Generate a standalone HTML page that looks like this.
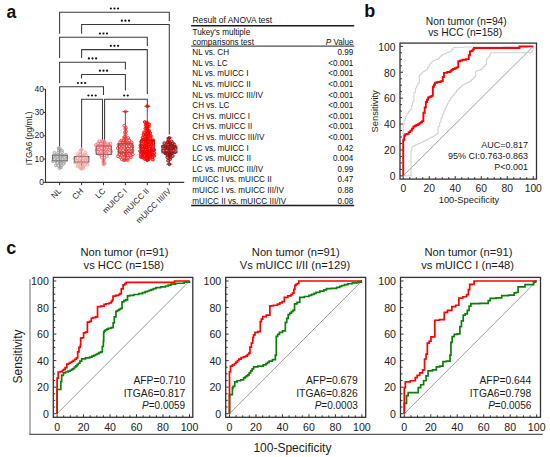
<!DOCTYPE html>
<html><head><meta charset="utf-8"><style>
html,body{margin:0;padding:0;background:#fff;}
svg{display:block;}
text{font-family:"Liberation Sans", sans-serif;}
</style></head><body>
<svg width="550" height="457" viewBox="0 0 550 457">
<rect width="550" height="457" fill="#fff"/>
<text x="6.40" y="17.60" font-size="17.5" text-anchor="start" font-weight="bold" fill="#111" >a</text>
<text x="364.20" y="17.30" font-size="18" text-anchor="start" font-weight="bold" fill="#111" >b</text>
<text x="6.30" y="254.30" font-size="18" text-anchor="start" font-weight="bold" fill="#111" >c</text>
<line x1="45.50" y1="89.00" x2="45.50" y2="182.90" stroke="#333" stroke-width="1.1"/>
<line x1="45.00" y1="182.40" x2="184.20" y2="182.40" stroke="#333" stroke-width="1.1"/>
<line x1="43.30" y1="182.40" x2="45.50" y2="182.40" stroke="#333" stroke-width="1"/>
<text x="44.00" y="185.00" font-size="8.5" text-anchor="end" font-weight="normal" fill="#222" >0</text>
<line x1="43.30" y1="159.10" x2="45.50" y2="159.10" stroke="#333" stroke-width="1"/>
<text x="44.00" y="161.70" font-size="8.5" text-anchor="end" font-weight="normal" fill="#222" >10</text>
<line x1="43.30" y1="135.80" x2="45.50" y2="135.80" stroke="#333" stroke-width="1"/>
<text x="44.00" y="138.40" font-size="8.5" text-anchor="end" font-weight="normal" fill="#222" >20</text>
<line x1="43.30" y1="112.50" x2="45.50" y2="112.50" stroke="#333" stroke-width="1"/>
<text x="44.00" y="115.10" font-size="8.5" text-anchor="end" font-weight="normal" fill="#222" >30</text>
<line x1="43.30" y1="89.20" x2="45.50" y2="89.20" stroke="#333" stroke-width="1"/>
<text x="44.00" y="91.80" font-size="8.5" text-anchor="end" font-weight="normal" fill="#222" >40</text>
<line x1="59.60" y1="182.40" x2="59.60" y2="185.20" stroke="#333" stroke-width="1"/>
<line x1="81.60" y1="182.40" x2="81.60" y2="185.20" stroke="#333" stroke-width="1"/>
<line x1="103.50" y1="182.40" x2="103.50" y2="185.20" stroke="#333" stroke-width="1"/>
<line x1="125.40" y1="182.40" x2="125.40" y2="185.20" stroke="#333" stroke-width="1"/>
<line x1="147.30" y1="182.40" x2="147.30" y2="185.20" stroke="#333" stroke-width="1"/>
<line x1="169.30" y1="182.40" x2="169.30" y2="185.20" stroke="#333" stroke-width="1"/>
<text x="0.00" y="0.00" font-size="8.1" text-anchor="middle" font-weight="normal" fill="#222" transform="translate(31.7,138.4) rotate(-90) scale(1,1.1)">ITGA6 (pg/mL)</text>
<text font-size="8.15" text-anchor="end" fill="#222" transform="translate(61.90,191.60) rotate(-45)">NL</text>
<text font-size="8.15" text-anchor="end" fill="#222" transform="translate(83.90,191.60) rotate(-45)">CH</text>
<text font-size="8.15" text-anchor="end" fill="#222" transform="translate(105.80,191.60) rotate(-45)">LC</text>
<text font-size="8.15" text-anchor="end" fill="#222" transform="translate(127.70,191.60) rotate(-45)">mUICC I</text>
<text font-size="8.15" text-anchor="end" fill="#222" transform="translate(149.60,191.60) rotate(-45)">mUICC II</text>
<text font-size="8.15" text-anchor="end" fill="#222" transform="translate(171.60,191.60) rotate(-45)">mUICC III/IV</text>
<path d="M59.60,33.70 V12.30 H169.30 V21.00" fill="none" stroke="#3a3a3a" stroke-width="1.05"/>
<circle cx="110.85" cy="8.50" r="1.1" fill="#111"/>
<circle cx="114.45" cy="8.50" r="1.1" fill="#111"/>
<circle cx="118.05" cy="8.50" r="1.1" fill="#111"/>
<path d="M81.60,33.70 V24.50 H169.30 V134.50" fill="none" stroke="#3a3a3a" stroke-width="1.05"/>
<circle cx="121.85" cy="20.70" r="1.1" fill="#111"/>
<circle cx="125.45" cy="20.70" r="1.1" fill="#111"/>
<circle cx="129.05" cy="20.70" r="1.1" fill="#111"/>
<path d="M59.60,58.00 V37.30 H147.30 V45.90" fill="none" stroke="#3a3a3a" stroke-width="1.05"/>
<circle cx="99.85" cy="33.50" r="1.1" fill="#111"/>
<circle cx="103.45" cy="33.50" r="1.1" fill="#111"/>
<circle cx="107.05" cy="33.50" r="1.1" fill="#111"/>
<path d="M81.60,58.00 V49.60 H147.30 V94.00" fill="none" stroke="#3a3a3a" stroke-width="1.05"/>
<circle cx="110.85" cy="45.80" r="1.1" fill="#111"/>
<circle cx="114.45" cy="45.80" r="1.1" fill="#111"/>
<circle cx="118.05" cy="45.80" r="1.1" fill="#111"/>
<path d="M59.60,83.00 V62.20 H125.40 V69.50" fill="none" stroke="#3a3a3a" stroke-width="1.05"/>
<circle cx="88.90" cy="58.40" r="1.1" fill="#111"/>
<circle cx="92.50" cy="58.40" r="1.1" fill="#111"/>
<circle cx="96.10" cy="58.40" r="1.1" fill="#111"/>
<path d="M81.60,78.60 V74.50 H125.40 V90.50" fill="none" stroke="#3a3a3a" stroke-width="1.05"/>
<circle cx="99.90" cy="70.70" r="1.1" fill="#111"/>
<circle cx="103.50" cy="70.70" r="1.1" fill="#111"/>
<circle cx="107.10" cy="70.70" r="1.1" fill="#111"/>
<path d="M59.60,146.50 V86.80 H103.50 V95.00" fill="none" stroke="#3a3a3a" stroke-width="1.05"/>
<circle cx="77.95" cy="83.00" r="1.1" fill="#111"/>
<circle cx="81.55" cy="83.00" r="1.1" fill="#111"/>
<circle cx="85.15" cy="83.00" r="1.1" fill="#111"/>
<path d="M81.60,147.80 V99.30 H102.50 V139.70" fill="none" stroke="#3a3a3a" stroke-width="1.05"/>
<circle cx="88.45" cy="95.50" r="1.1" fill="#111"/>
<circle cx="92.05" cy="95.50" r="1.1" fill="#111"/>
<circle cx="95.65" cy="95.50" r="1.1" fill="#111"/>
<path d="M104.60,139.70 V99.30 H147.30 V106.00" fill="none" stroke="#3a3a3a" stroke-width="1.05"/>
<circle cx="124.15" cy="95.50" r="1.1" fill="#111"/>
<circle cx="127.75" cy="95.50" r="1.1" fill="#111"/>
<line x1="59.60" y1="148.40" x2="59.60" y2="168.20" stroke="#444" stroke-width="0.9"/>
<rect x="52.40" y="155.20" width="14.80" height="5.60" fill="none" stroke="#4a4a4a" stroke-width="0.95"/>
<circle cx="58.60" cy="148.18" r="1.45" fill="#a2a2a2" fill-opacity="0.25" stroke="#a2a2a2" stroke-width="0.85"/>
<circle cx="59.05" cy="150.19" r="1.45" fill="#a2a2a2" fill-opacity="0.25" stroke="#a2a2a2" stroke-width="0.85"/>
<circle cx="61.91" cy="150.54" r="1.45" fill="#a2a2a2" fill-opacity="0.25" stroke="#a2a2a2" stroke-width="0.85"/>
<circle cx="54.43" cy="152.81" r="1.45" fill="#a2a2a2" fill-opacity="0.25" stroke="#a2a2a2" stroke-width="0.85"/>
<circle cx="58.20" cy="152.72" r="1.45" fill="#a2a2a2" fill-opacity="0.25" stroke="#a2a2a2" stroke-width="0.85"/>
<circle cx="62.05" cy="152.31" r="1.45" fill="#a2a2a2" fill-opacity="0.25" stroke="#a2a2a2" stroke-width="0.85"/>
<circle cx="54.98" cy="155.29" r="1.45" fill="#a2a2a2" fill-opacity="0.25" stroke="#a2a2a2" stroke-width="0.85"/>
<circle cx="58.07" cy="154.57" r="1.45" fill="#a2a2a2" fill-opacity="0.25" stroke="#a2a2a2" stroke-width="0.85"/>
<circle cx="62.28" cy="155.44" r="1.45" fill="#a2a2a2" fill-opacity="0.25" stroke="#a2a2a2" stroke-width="0.85"/>
<circle cx="65.72" cy="154.78" r="1.45" fill="#a2a2a2" fill-opacity="0.25" stroke="#a2a2a2" stroke-width="0.85"/>
<circle cx="54.10" cy="156.46" r="1.45" fill="#a2a2a2" fill-opacity="0.25" stroke="#a2a2a2" stroke-width="0.85"/>
<circle cx="57.55" cy="156.75" r="1.45" fill="#a2a2a2" fill-opacity="0.25" stroke="#a2a2a2" stroke-width="0.85"/>
<circle cx="60.16" cy="156.54" r="1.45" fill="#a2a2a2" fill-opacity="0.25" stroke="#a2a2a2" stroke-width="0.85"/>
<circle cx="64.00" cy="157.38" r="1.45" fill="#a2a2a2" fill-opacity="0.25" stroke="#a2a2a2" stroke-width="0.85"/>
<circle cx="54.34" cy="159.20" r="1.45" fill="#a2a2a2" fill-opacity="0.25" stroke="#a2a2a2" stroke-width="0.85"/>
<circle cx="57.76" cy="158.95" r="1.45" fill="#a2a2a2" fill-opacity="0.25" stroke="#a2a2a2" stroke-width="0.85"/>
<circle cx="60.42" cy="158.58" r="1.45" fill="#a2a2a2" fill-opacity="0.25" stroke="#a2a2a2" stroke-width="0.85"/>
<circle cx="62.52" cy="158.75" r="1.45" fill="#a2a2a2" fill-opacity="0.25" stroke="#a2a2a2" stroke-width="0.85"/>
<circle cx="66.17" cy="159.01" r="1.45" fill="#a2a2a2" fill-opacity="0.25" stroke="#a2a2a2" stroke-width="0.85"/>
<circle cx="53.09" cy="161.30" r="1.45" fill="#a2a2a2" fill-opacity="0.25" stroke="#a2a2a2" stroke-width="0.85"/>
<circle cx="56.03" cy="160.96" r="1.45" fill="#a2a2a2" fill-opacity="0.25" stroke="#a2a2a2" stroke-width="0.85"/>
<circle cx="59.26" cy="161.44" r="1.45" fill="#a2a2a2" fill-opacity="0.25" stroke="#a2a2a2" stroke-width="0.85"/>
<circle cx="61.24" cy="161.29" r="1.45" fill="#a2a2a2" fill-opacity="0.25" stroke="#a2a2a2" stroke-width="0.85"/>
<circle cx="64.39" cy="161.65" r="1.45" fill="#a2a2a2" fill-opacity="0.25" stroke="#a2a2a2" stroke-width="0.85"/>
<circle cx="57.12" cy="163.05" r="1.45" fill="#a2a2a2" fill-opacity="0.25" stroke="#a2a2a2" stroke-width="0.85"/>
<circle cx="61.02" cy="162.84" r="1.45" fill="#a2a2a2" fill-opacity="0.25" stroke="#a2a2a2" stroke-width="0.85"/>
<circle cx="63.79" cy="163.61" r="1.45" fill="#a2a2a2" fill-opacity="0.25" stroke="#a2a2a2" stroke-width="0.85"/>
<circle cx="55.86" cy="165.39" r="1.45" fill="#a2a2a2" fill-opacity="0.25" stroke="#a2a2a2" stroke-width="0.85"/>
<circle cx="58.20" cy="165.60" r="1.45" fill="#a2a2a2" fill-opacity="0.25" stroke="#a2a2a2" stroke-width="0.85"/>
<circle cx="61.72" cy="165.49" r="1.45" fill="#a2a2a2" fill-opacity="0.25" stroke="#a2a2a2" stroke-width="0.85"/>
<circle cx="60.88" cy="167.28" r="1.45" fill="#a2a2a2" fill-opacity="0.25" stroke="#a2a2a2" stroke-width="0.85"/>
<circle cx="59.60" cy="148.40" r="1.45" fill="#a2a2a2" fill-opacity="0.25" stroke="#a2a2a2" stroke-width="0.85"/>
<circle cx="59.60" cy="168.20" r="1.45" fill="#a2a2a2" fill-opacity="0.25" stroke="#a2a2a2" stroke-width="0.85"/>
<rect x="52.40" y="155.20" width="14.80" height="5.60" fill="none" stroke="#4a4a4a" stroke-width="0.8" stroke-opacity="0.4"/>
<line x1="81.60" y1="149.60" x2="81.60" y2="168.80" stroke="#444" stroke-width="0.9"/>
<rect x="74.40" y="156.60" width="14.40" height="5.40" fill="none" stroke="#4a4a4a" stroke-width="0.95"/>
<circle cx="81.12" cy="149.91" r="1.45" fill="#f5a0a0" fill-opacity="0.2" stroke="#f5a0a0" stroke-width="0.85"/>
<circle cx="80.08" cy="151.85" r="1.45" fill="#f5a0a0" fill-opacity="0.2" stroke="#f5a0a0" stroke-width="0.85"/>
<circle cx="85.20" cy="152.43" r="1.45" fill="#f5a0a0" fill-opacity="0.2" stroke="#f5a0a0" stroke-width="0.85"/>
<circle cx="77.50" cy="154.20" r="1.45" fill="#f5a0a0" fill-opacity="0.2" stroke="#f5a0a0" stroke-width="0.85"/>
<circle cx="80.23" cy="154.24" r="1.45" fill="#f5a0a0" fill-opacity="0.2" stroke="#f5a0a0" stroke-width="0.85"/>
<circle cx="84.37" cy="154.59" r="1.45" fill="#f5a0a0" fill-opacity="0.2" stroke="#f5a0a0" stroke-width="0.85"/>
<circle cx="78.53" cy="155.84" r="1.45" fill="#f5a0a0" fill-opacity="0.2" stroke="#f5a0a0" stroke-width="0.85"/>
<circle cx="80.77" cy="156.30" r="1.45" fill="#f5a0a0" fill-opacity="0.2" stroke="#f5a0a0" stroke-width="0.85"/>
<circle cx="83.11" cy="156.05" r="1.45" fill="#f5a0a0" fill-opacity="0.2" stroke="#f5a0a0" stroke-width="0.85"/>
<circle cx="86.16" cy="155.64" r="1.45" fill="#f5a0a0" fill-opacity="0.2" stroke="#f5a0a0" stroke-width="0.85"/>
<circle cx="74.54" cy="158.52" r="1.45" fill="#f5a0a0" fill-opacity="0.2" stroke="#f5a0a0" stroke-width="0.85"/>
<circle cx="77.49" cy="157.90" r="1.45" fill="#f5a0a0" fill-opacity="0.2" stroke="#f5a0a0" stroke-width="0.85"/>
<circle cx="80.70" cy="158.65" r="1.45" fill="#f5a0a0" fill-opacity="0.2" stroke="#f5a0a0" stroke-width="0.85"/>
<circle cx="83.11" cy="158.14" r="1.45" fill="#f5a0a0" fill-opacity="0.2" stroke="#f5a0a0" stroke-width="0.85"/>
<circle cx="86.61" cy="158.66" r="1.45" fill="#f5a0a0" fill-opacity="0.2" stroke="#f5a0a0" stroke-width="0.85"/>
<circle cx="77.21" cy="160.74" r="1.45" fill="#f5a0a0" fill-opacity="0.2" stroke="#f5a0a0" stroke-width="0.85"/>
<circle cx="79.25" cy="160.20" r="1.45" fill="#f5a0a0" fill-opacity="0.2" stroke="#f5a0a0" stroke-width="0.85"/>
<circle cx="82.15" cy="160.76" r="1.45" fill="#f5a0a0" fill-opacity="0.2" stroke="#f5a0a0" stroke-width="0.85"/>
<circle cx="85.78" cy="159.88" r="1.45" fill="#f5a0a0" fill-opacity="0.2" stroke="#f5a0a0" stroke-width="0.85"/>
<circle cx="87.48" cy="159.98" r="1.45" fill="#f5a0a0" fill-opacity="0.2" stroke="#f5a0a0" stroke-width="0.85"/>
<circle cx="75.00" cy="162.38" r="1.45" fill="#f5a0a0" fill-opacity="0.2" stroke="#f5a0a0" stroke-width="0.85"/>
<circle cx="78.23" cy="162.12" r="1.45" fill="#f5a0a0" fill-opacity="0.2" stroke="#f5a0a0" stroke-width="0.85"/>
<circle cx="80.16" cy="162.30" r="1.45" fill="#f5a0a0" fill-opacity="0.2" stroke="#f5a0a0" stroke-width="0.85"/>
<circle cx="83.41" cy="162.48" r="1.45" fill="#f5a0a0" fill-opacity="0.2" stroke="#f5a0a0" stroke-width="0.85"/>
<circle cx="86.96" cy="162.63" r="1.45" fill="#f5a0a0" fill-opacity="0.2" stroke="#f5a0a0" stroke-width="0.85"/>
<circle cx="77.80" cy="164.64" r="1.45" fill="#f5a0a0" fill-opacity="0.2" stroke="#f5a0a0" stroke-width="0.85"/>
<circle cx="81.07" cy="163.96" r="1.45" fill="#f5a0a0" fill-opacity="0.2" stroke="#f5a0a0" stroke-width="0.85"/>
<circle cx="84.43" cy="164.84" r="1.45" fill="#f5a0a0" fill-opacity="0.2" stroke="#f5a0a0" stroke-width="0.85"/>
<circle cx="87.45" cy="164.86" r="1.45" fill="#f5a0a0" fill-opacity="0.2" stroke="#f5a0a0" stroke-width="0.85"/>
<circle cx="77.54" cy="166.48" r="1.45" fill="#f5a0a0" fill-opacity="0.2" stroke="#f5a0a0" stroke-width="0.85"/>
<circle cx="80.29" cy="166.76" r="1.45" fill="#f5a0a0" fill-opacity="0.2" stroke="#f5a0a0" stroke-width="0.85"/>
<circle cx="83.40" cy="166.08" r="1.45" fill="#f5a0a0" fill-opacity="0.2" stroke="#f5a0a0" stroke-width="0.85"/>
<circle cx="80.65" cy="168.29" r="1.45" fill="#f5a0a0" fill-opacity="0.2" stroke="#f5a0a0" stroke-width="0.85"/>
<circle cx="83.42" cy="168.16" r="1.45" fill="#f5a0a0" fill-opacity="0.2" stroke="#f5a0a0" stroke-width="0.85"/>
<circle cx="81.60" cy="149.60" r="1.45" fill="#f5a0a0" fill-opacity="0.2" stroke="#f5a0a0" stroke-width="0.85"/>
<circle cx="81.60" cy="168.80" r="1.45" fill="#f5a0a0" fill-opacity="0.2" stroke="#f5a0a0" stroke-width="0.85"/>
<rect x="74.40" y="156.60" width="14.40" height="5.40" fill="none" stroke="#4a4a4a" stroke-width="0.8" stroke-opacity="0.4"/>
<line x1="103.50" y1="141.60" x2="103.50" y2="164.20" stroke="#444" stroke-width="0.9"/>
<rect x="96.20" y="146.00" width="15.10" height="8.30" fill="none" stroke="#4a4a4a" stroke-width="0.95"/>
<circle cx="99.35" cy="141.18" r="1.45" fill="#f27474" fill-opacity="0.2" stroke="#f27474" stroke-width="0.85"/>
<circle cx="102.19" cy="141.44" r="1.45" fill="#f27474" fill-opacity="0.2" stroke="#f27474" stroke-width="0.85"/>
<circle cx="104.79" cy="142.05" r="1.45" fill="#f27474" fill-opacity="0.2" stroke="#f27474" stroke-width="0.85"/>
<circle cx="98.21" cy="143.18" r="1.45" fill="#f27474" fill-opacity="0.2" stroke="#f27474" stroke-width="0.85"/>
<circle cx="100.80" cy="143.42" r="1.45" fill="#f27474" fill-opacity="0.2" stroke="#f27474" stroke-width="0.85"/>
<circle cx="104.06" cy="143.15" r="1.45" fill="#f27474" fill-opacity="0.2" stroke="#f27474" stroke-width="0.85"/>
<circle cx="107.84" cy="144.19" r="1.45" fill="#f27474" fill-opacity="0.2" stroke="#f27474" stroke-width="0.85"/>
<circle cx="110.40" cy="143.58" r="1.45" fill="#f27474" fill-opacity="0.2" stroke="#f27474" stroke-width="0.85"/>
<circle cx="95.97" cy="145.12" r="1.45" fill="#f27474" fill-opacity="0.2" stroke="#f27474" stroke-width="0.85"/>
<circle cx="99.43" cy="145.32" r="1.45" fill="#f27474" fill-opacity="0.2" stroke="#f27474" stroke-width="0.85"/>
<circle cx="103.21" cy="145.19" r="1.45" fill="#f27474" fill-opacity="0.2" stroke="#f27474" stroke-width="0.85"/>
<circle cx="105.18" cy="146.14" r="1.45" fill="#f27474" fill-opacity="0.2" stroke="#f27474" stroke-width="0.85"/>
<circle cx="108.99" cy="145.18" r="1.45" fill="#f27474" fill-opacity="0.2" stroke="#f27474" stroke-width="0.85"/>
<circle cx="98.11" cy="147.03" r="1.45" fill="#f27474" fill-opacity="0.2" stroke="#f27474" stroke-width="0.85"/>
<circle cx="101.19" cy="148.17" r="1.45" fill="#f27474" fill-opacity="0.2" stroke="#f27474" stroke-width="0.85"/>
<circle cx="104.76" cy="147.84" r="1.45" fill="#f27474" fill-opacity="0.2" stroke="#f27474" stroke-width="0.85"/>
<circle cx="107.02" cy="147.44" r="1.45" fill="#f27474" fill-opacity="0.2" stroke="#f27474" stroke-width="0.85"/>
<circle cx="109.98" cy="147.93" r="1.45" fill="#f27474" fill-opacity="0.2" stroke="#f27474" stroke-width="0.85"/>
<circle cx="96.60" cy="149.93" r="1.45" fill="#f27474" fill-opacity="0.2" stroke="#f27474" stroke-width="0.85"/>
<circle cx="99.41" cy="149.27" r="1.45" fill="#f27474" fill-opacity="0.2" stroke="#f27474" stroke-width="0.85"/>
<circle cx="103.19" cy="150.18" r="1.45" fill="#f27474" fill-opacity="0.2" stroke="#f27474" stroke-width="0.85"/>
<circle cx="106.34" cy="149.97" r="1.45" fill="#f27474" fill-opacity="0.2" stroke="#f27474" stroke-width="0.85"/>
<circle cx="109.40" cy="149.89" r="1.45" fill="#f27474" fill-opacity="0.2" stroke="#f27474" stroke-width="0.85"/>
<circle cx="97.67" cy="151.62" r="1.45" fill="#f27474" fill-opacity="0.2" stroke="#f27474" stroke-width="0.85"/>
<circle cx="100.95" cy="151.03" r="1.45" fill="#f27474" fill-opacity="0.2" stroke="#f27474" stroke-width="0.85"/>
<circle cx="103.59" cy="151.34" r="1.45" fill="#f27474" fill-opacity="0.2" stroke="#f27474" stroke-width="0.85"/>
<circle cx="107.01" cy="151.83" r="1.45" fill="#f27474" fill-opacity="0.2" stroke="#f27474" stroke-width="0.85"/>
<circle cx="111.09" cy="151.54" r="1.45" fill="#f27474" fill-opacity="0.2" stroke="#f27474" stroke-width="0.85"/>
<circle cx="99.56" cy="154.19" r="1.45" fill="#f27474" fill-opacity="0.2" stroke="#f27474" stroke-width="0.85"/>
<circle cx="103.39" cy="153.44" r="1.45" fill="#f27474" fill-opacity="0.2" stroke="#f27474" stroke-width="0.85"/>
<circle cx="106.16" cy="153.27" r="1.45" fill="#f27474" fill-opacity="0.2" stroke="#f27474" stroke-width="0.85"/>
<circle cx="101.43" cy="155.25" r="1.45" fill="#f27474" fill-opacity="0.2" stroke="#f27474" stroke-width="0.85"/>
<circle cx="106.82" cy="156.08" r="1.45" fill="#f27474" fill-opacity="0.2" stroke="#f27474" stroke-width="0.85"/>
<circle cx="101.73" cy="157.58" r="1.45" fill="#f27474" fill-opacity="0.2" stroke="#f27474" stroke-width="0.85"/>
<circle cx="104.46" cy="157.96" r="1.45" fill="#f27474" fill-opacity="0.2" stroke="#f27474" stroke-width="0.85"/>
<circle cx="103.67" cy="159.79" r="1.45" fill="#f27474" fill-opacity="0.2" stroke="#f27474" stroke-width="0.85"/>
<circle cx="103.32" cy="161.94" r="1.45" fill="#f27474" fill-opacity="0.2" stroke="#f27474" stroke-width="0.85"/>
<circle cx="104.60" cy="163.57" r="1.45" fill="#f27474" fill-opacity="0.2" stroke="#f27474" stroke-width="0.85"/>
<circle cx="103.50" cy="141.60" r="1.45" fill="#f27474" fill-opacity="0.2" stroke="#f27474" stroke-width="0.85"/>
<circle cx="103.50" cy="164.20" r="1.45" fill="#f27474" fill-opacity="0.2" stroke="#f27474" stroke-width="0.85"/>
<rect x="96.20" y="146.00" width="15.10" height="8.30" fill="none" stroke="#4a4a4a" stroke-width="0.8" stroke-opacity="0.4"/>
<line x1="125.40" y1="111.60" x2="125.40" y2="160.00" stroke="#444" stroke-width="0.9"/>
<line x1="122.40" y1="111.60" x2="128.40" y2="111.60" stroke="#444" stroke-width="0.9"/>
<line x1="122.40" y1="160.00" x2="128.40" y2="160.00" stroke="#444" stroke-width="0.9"/>
<rect x="118.50" y="143.90" width="14.40" height="8.90" fill="none" stroke="#4a4a4a" stroke-width="0.95"/>
<circle cx="124.20" cy="125.65" r="1.45" fill="#f03838" fill-opacity="0.15" stroke="#f03838" stroke-width="0.85"/>
<circle cx="125.92" cy="127.56" r="1.45" fill="#f03838" fill-opacity="0.15" stroke="#f03838" stroke-width="0.85"/>
<circle cx="125.31" cy="128.98" r="1.45" fill="#f03838" fill-opacity="0.15" stroke="#f03838" stroke-width="0.85"/>
<circle cx="126.01" cy="131.54" r="1.45" fill="#f03838" fill-opacity="0.15" stroke="#f03838" stroke-width="0.85"/>
<circle cx="124.96" cy="132.50" r="1.45" fill="#f03838" fill-opacity="0.15" stroke="#f03838" stroke-width="0.85"/>
<circle cx="125.63" cy="134.38" r="1.45" fill="#f03838" fill-opacity="0.15" stroke="#f03838" stroke-width="0.85"/>
<circle cx="124.22" cy="137.07" r="1.45" fill="#f03838" fill-opacity="0.15" stroke="#f03838" stroke-width="0.85"/>
<circle cx="125.15" cy="137.09" r="1.45" fill="#f03838" fill-opacity="0.15" stroke="#f03838" stroke-width="0.85"/>
<circle cx="124.33" cy="138.79" r="1.45" fill="#f03838" fill-opacity="0.15" stroke="#f03838" stroke-width="0.85"/>
<circle cx="125.94" cy="138.66" r="1.45" fill="#f03838" fill-opacity="0.15" stroke="#f03838" stroke-width="0.85"/>
<circle cx="128.13" cy="138.02" r="1.45" fill="#f03838" fill-opacity="0.15" stroke="#f03838" stroke-width="0.85"/>
<circle cx="121.25" cy="140.68" r="1.45" fill="#f03838" fill-opacity="0.15" stroke="#f03838" stroke-width="0.85"/>
<circle cx="123.33" cy="141.02" r="1.45" fill="#f03838" fill-opacity="0.15" stroke="#f03838" stroke-width="0.85"/>
<circle cx="125.91" cy="140.95" r="1.45" fill="#f03838" fill-opacity="0.15" stroke="#f03838" stroke-width="0.85"/>
<circle cx="129.16" cy="140.15" r="1.45" fill="#f03838" fill-opacity="0.15" stroke="#f03838" stroke-width="0.85"/>
<circle cx="120.12" cy="142.15" r="1.45" fill="#f03838" fill-opacity="0.15" stroke="#f03838" stroke-width="0.85"/>
<circle cx="122.94" cy="142.50" r="1.45" fill="#f03838" fill-opacity="0.15" stroke="#f03838" stroke-width="0.85"/>
<circle cx="125.81" cy="142.30" r="1.45" fill="#f03838" fill-opacity="0.15" stroke="#f03838" stroke-width="0.85"/>
<circle cx="128.48" cy="142.89" r="1.45" fill="#f03838" fill-opacity="0.15" stroke="#f03838" stroke-width="0.85"/>
<circle cx="131.63" cy="142.35" r="1.45" fill="#f03838" fill-opacity="0.15" stroke="#f03838" stroke-width="0.85"/>
<circle cx="118.57" cy="144.79" r="1.45" fill="#f03838" fill-opacity="0.15" stroke="#f03838" stroke-width="0.85"/>
<circle cx="121.44" cy="144.80" r="1.45" fill="#f03838" fill-opacity="0.15" stroke="#f03838" stroke-width="0.85"/>
<circle cx="124.65" cy="144.34" r="1.45" fill="#f03838" fill-opacity="0.15" stroke="#f03838" stroke-width="0.85"/>
<circle cx="127.78" cy="143.72" r="1.45" fill="#f03838" fill-opacity="0.15" stroke="#f03838" stroke-width="0.85"/>
<circle cx="130.77" cy="143.92" r="1.45" fill="#f03838" fill-opacity="0.15" stroke="#f03838" stroke-width="0.85"/>
<circle cx="119.26" cy="146.56" r="1.45" fill="#f03838" fill-opacity="0.15" stroke="#f03838" stroke-width="0.85"/>
<circle cx="122.59" cy="146.17" r="1.45" fill="#f03838" fill-opacity="0.15" stroke="#f03838" stroke-width="0.85"/>
<circle cx="126.47" cy="146.27" r="1.45" fill="#f03838" fill-opacity="0.15" stroke="#f03838" stroke-width="0.85"/>
<circle cx="129.01" cy="146.22" r="1.45" fill="#f03838" fill-opacity="0.15" stroke="#f03838" stroke-width="0.85"/>
<circle cx="132.43" cy="146.54" r="1.45" fill="#f03838" fill-opacity="0.15" stroke="#f03838" stroke-width="0.85"/>
<circle cx="117.90" cy="148.17" r="1.45" fill="#f03838" fill-opacity="0.15" stroke="#f03838" stroke-width="0.85"/>
<circle cx="121.20" cy="147.83" r="1.45" fill="#f03838" fill-opacity="0.15" stroke="#f03838" stroke-width="0.85"/>
<circle cx="125.03" cy="148.11" r="1.45" fill="#f03838" fill-opacity="0.15" stroke="#f03838" stroke-width="0.85"/>
<circle cx="127.84" cy="148.41" r="1.45" fill="#f03838" fill-opacity="0.15" stroke="#f03838" stroke-width="0.85"/>
<circle cx="131.43" cy="148.03" r="1.45" fill="#f03838" fill-opacity="0.15" stroke="#f03838" stroke-width="0.85"/>
<circle cx="120.11" cy="150.01" r="1.45" fill="#f03838" fill-opacity="0.15" stroke="#f03838" stroke-width="0.85"/>
<circle cx="123.07" cy="150.23" r="1.45" fill="#f03838" fill-opacity="0.15" stroke="#f03838" stroke-width="0.85"/>
<circle cx="126.08" cy="150.04" r="1.45" fill="#f03838" fill-opacity="0.15" stroke="#f03838" stroke-width="0.85"/>
<circle cx="129.22" cy="150.53" r="1.45" fill="#f03838" fill-opacity="0.15" stroke="#f03838" stroke-width="0.85"/>
<circle cx="132.63" cy="150.45" r="1.45" fill="#f03838" fill-opacity="0.15" stroke="#f03838" stroke-width="0.85"/>
<circle cx="119.07" cy="151.61" r="1.45" fill="#f03838" fill-opacity="0.15" stroke="#f03838" stroke-width="0.85"/>
<circle cx="121.63" cy="152.43" r="1.45" fill="#f03838" fill-opacity="0.15" stroke="#f03838" stroke-width="0.85"/>
<circle cx="125.13" cy="151.46" r="1.45" fill="#f03838" fill-opacity="0.15" stroke="#f03838" stroke-width="0.85"/>
<circle cx="127.22" cy="151.83" r="1.45" fill="#f03838" fill-opacity="0.15" stroke="#f03838" stroke-width="0.85"/>
<circle cx="130.25" cy="151.59" r="1.45" fill="#f03838" fill-opacity="0.15" stroke="#f03838" stroke-width="0.85"/>
<circle cx="119.35" cy="154.00" r="1.45" fill="#f03838" fill-opacity="0.15" stroke="#f03838" stroke-width="0.85"/>
<circle cx="123.45" cy="154.28" r="1.45" fill="#f03838" fill-opacity="0.15" stroke="#f03838" stroke-width="0.85"/>
<circle cx="125.67" cy="154.06" r="1.45" fill="#f03838" fill-opacity="0.15" stroke="#f03838" stroke-width="0.85"/>
<circle cx="129.47" cy="153.37" r="1.45" fill="#f03838" fill-opacity="0.15" stroke="#f03838" stroke-width="0.85"/>
<circle cx="132.89" cy="154.36" r="1.45" fill="#f03838" fill-opacity="0.15" stroke="#f03838" stroke-width="0.85"/>
<circle cx="118.06" cy="156.24" r="1.45" fill="#f03838" fill-opacity="0.15" stroke="#f03838" stroke-width="0.85"/>
<circle cx="121.41" cy="155.68" r="1.45" fill="#f03838" fill-opacity="0.15" stroke="#f03838" stroke-width="0.85"/>
<circle cx="125.34" cy="156.10" r="1.45" fill="#f03838" fill-opacity="0.15" stroke="#f03838" stroke-width="0.85"/>
<circle cx="127.28" cy="155.62" r="1.45" fill="#f03838" fill-opacity="0.15" stroke="#f03838" stroke-width="0.85"/>
<circle cx="130.87" cy="155.51" r="1.45" fill="#f03838" fill-opacity="0.15" stroke="#f03838" stroke-width="0.85"/>
<circle cx="120.32" cy="157.38" r="1.45" fill="#f03838" fill-opacity="0.15" stroke="#f03838" stroke-width="0.85"/>
<circle cx="124.66" cy="157.02" r="1.45" fill="#f03838" fill-opacity="0.15" stroke="#f03838" stroke-width="0.85"/>
<circle cx="128.03" cy="157.53" r="1.45" fill="#f03838" fill-opacity="0.15" stroke="#f03838" stroke-width="0.85"/>
<circle cx="130.88" cy="157.40" r="1.45" fill="#f03838" fill-opacity="0.15" stroke="#f03838" stroke-width="0.85"/>
<circle cx="121.96" cy="159.51" r="1.45" fill="#f03838" fill-opacity="0.15" stroke="#f03838" stroke-width="0.85"/>
<circle cx="124.04" cy="160.08" r="1.45" fill="#f03838" fill-opacity="0.15" stroke="#f03838" stroke-width="0.85"/>
<circle cx="127.92" cy="160.07" r="1.45" fill="#f03838" fill-opacity="0.15" stroke="#f03838" stroke-width="0.85"/>
<circle cx="125.40" cy="111.60" r="1.45" fill="#f03838" fill-opacity="0.15" stroke="#f03838" stroke-width="0.85"/>
<circle cx="125.40" cy="160.00" r="1.45" fill="#f03838" fill-opacity="0.15" stroke="#f03838" stroke-width="0.85"/>
<rect x="118.50" y="143.90" width="14.40" height="8.90" fill="none" stroke="#4a4a4a" stroke-width="0.8" stroke-opacity="0.4"/>
<line x1="147.30" y1="106.20" x2="147.30" y2="160.20" stroke="#444" stroke-width="0.9"/>
<line x1="144.30" y1="106.20" x2="150.30" y2="106.20" stroke="#444" stroke-width="0.9"/>
<line x1="144.30" y1="160.20" x2="150.30" y2="160.20" stroke="#444" stroke-width="0.9"/>
<rect x="140.50" y="140.10" width="14.10" height="11.20" fill="none" stroke="#4a4a4a" stroke-width="0.95"/>
<circle cx="144.80" cy="122.02" r="1.45" fill="#ff0000" fill-opacity="0.55" stroke="#ff0000" stroke-width="0.85"/>
<circle cx="147.11" cy="122.63" r="1.45" fill="#ff0000" fill-opacity="0.55" stroke="#ff0000" stroke-width="0.85"/>
<circle cx="146.47" cy="123.46" r="1.45" fill="#ff0000" fill-opacity="0.55" stroke="#ff0000" stroke-width="0.85"/>
<circle cx="149.20" cy="124.39" r="1.45" fill="#ff0000" fill-opacity="0.55" stroke="#ff0000" stroke-width="0.85"/>
<circle cx="145.68" cy="125.21" r="1.45" fill="#ff0000" fill-opacity="0.55" stroke="#ff0000" stroke-width="0.85"/>
<circle cx="147.38" cy="126.00" r="1.45" fill="#ff0000" fill-opacity="0.55" stroke="#ff0000" stroke-width="0.85"/>
<circle cx="146.77" cy="127.34" r="1.45" fill="#ff0000" fill-opacity="0.55" stroke="#ff0000" stroke-width="0.85"/>
<circle cx="148.85" cy="126.57" r="1.45" fill="#ff0000" fill-opacity="0.55" stroke="#ff0000" stroke-width="0.85"/>
<circle cx="145.37" cy="128.61" r="1.45" fill="#ff0000" fill-opacity="0.55" stroke="#ff0000" stroke-width="0.85"/>
<circle cx="147.39" cy="129.23" r="1.45" fill="#ff0000" fill-opacity="0.55" stroke="#ff0000" stroke-width="0.85"/>
<circle cx="146.59" cy="130.66" r="1.45" fill="#ff0000" fill-opacity="0.55" stroke="#ff0000" stroke-width="0.85"/>
<circle cx="149.11" cy="130.73" r="1.45" fill="#ff0000" fill-opacity="0.55" stroke="#ff0000" stroke-width="0.85"/>
<circle cx="144.06" cy="132.34" r="1.45" fill="#ff0000" fill-opacity="0.55" stroke="#ff0000" stroke-width="0.85"/>
<circle cx="148.37" cy="131.71" r="1.45" fill="#ff0000" fill-opacity="0.55" stroke="#ff0000" stroke-width="0.85"/>
<circle cx="146.00" cy="134.01" r="1.45" fill="#ff0000" fill-opacity="0.55" stroke="#ff0000" stroke-width="0.85"/>
<circle cx="147.73" cy="133.06" r="1.45" fill="#ff0000" fill-opacity="0.55" stroke="#ff0000" stroke-width="0.85"/>
<circle cx="150.21" cy="133.19" r="1.45" fill="#ff0000" fill-opacity="0.55" stroke="#ff0000" stroke-width="0.85"/>
<circle cx="143.45" cy="134.69" r="1.45" fill="#ff0000" fill-opacity="0.55" stroke="#ff0000" stroke-width="0.85"/>
<circle cx="145.92" cy="134.74" r="1.45" fill="#ff0000" fill-opacity="0.55" stroke="#ff0000" stroke-width="0.85"/>
<circle cx="148.84" cy="134.87" r="1.45" fill="#ff0000" fill-opacity="0.55" stroke="#ff0000" stroke-width="0.85"/>
<circle cx="145.35" cy="136.45" r="1.45" fill="#ff0000" fill-opacity="0.55" stroke="#ff0000" stroke-width="0.85"/>
<circle cx="148.05" cy="136.31" r="1.45" fill="#ff0000" fill-opacity="0.55" stroke="#ff0000" stroke-width="0.85"/>
<circle cx="150.90" cy="136.12" r="1.45" fill="#ff0000" fill-opacity="0.55" stroke="#ff0000" stroke-width="0.85"/>
<circle cx="142.63" cy="137.72" r="1.45" fill="#ff0000" fill-opacity="0.55" stroke="#ff0000" stroke-width="0.85"/>
<circle cx="145.69" cy="138.36" r="1.45" fill="#ff0000" fill-opacity="0.55" stroke="#ff0000" stroke-width="0.85"/>
<circle cx="147.31" cy="138.27" r="1.45" fill="#ff0000" fill-opacity="0.55" stroke="#ff0000" stroke-width="0.85"/>
<circle cx="150.73" cy="137.83" r="1.45" fill="#ff0000" fill-opacity="0.55" stroke="#ff0000" stroke-width="0.85"/>
<circle cx="142.95" cy="139.82" r="1.45" fill="#ff0000" fill-opacity="0.55" stroke="#ff0000" stroke-width="0.85"/>
<circle cx="145.27" cy="140.30" r="1.45" fill="#ff0000" fill-opacity="0.55" stroke="#ff0000" stroke-width="0.85"/>
<circle cx="147.90" cy="139.91" r="1.45" fill="#ff0000" fill-opacity="0.55" stroke="#ff0000" stroke-width="0.85"/>
<circle cx="151.09" cy="140.48" r="1.45" fill="#ff0000" fill-opacity="0.55" stroke="#ff0000" stroke-width="0.85"/>
<circle cx="153.38" cy="140.30" r="1.45" fill="#ff0000" fill-opacity="0.55" stroke="#ff0000" stroke-width="0.85"/>
<circle cx="141.12" cy="141.66" r="1.45" fill="#ff0000" fill-opacity="0.55" stroke="#ff0000" stroke-width="0.85"/>
<circle cx="143.56" cy="141.32" r="1.45" fill="#ff0000" fill-opacity="0.55" stroke="#ff0000" stroke-width="0.85"/>
<circle cx="145.93" cy="141.06" r="1.45" fill="#ff0000" fill-opacity="0.55" stroke="#ff0000" stroke-width="0.85"/>
<circle cx="148.81" cy="141.79" r="1.45" fill="#ff0000" fill-opacity="0.55" stroke="#ff0000" stroke-width="0.85"/>
<circle cx="151.93" cy="141.10" r="1.45" fill="#ff0000" fill-opacity="0.55" stroke="#ff0000" stroke-width="0.85"/>
<circle cx="141.73" cy="143.51" r="1.45" fill="#ff0000" fill-opacity="0.55" stroke="#ff0000" stroke-width="0.85"/>
<circle cx="145.70" cy="143.30" r="1.45" fill="#ff0000" fill-opacity="0.55" stroke="#ff0000" stroke-width="0.85"/>
<circle cx="147.74" cy="142.79" r="1.45" fill="#ff0000" fill-opacity="0.55" stroke="#ff0000" stroke-width="0.85"/>
<circle cx="150.63" cy="143.05" r="1.45" fill="#ff0000" fill-opacity="0.55" stroke="#ff0000" stroke-width="0.85"/>
<circle cx="153.31" cy="143.03" r="1.45" fill="#ff0000" fill-opacity="0.55" stroke="#ff0000" stroke-width="0.85"/>
<circle cx="140.45" cy="145.25" r="1.45" fill="#ff0000" fill-opacity="0.55" stroke="#ff0000" stroke-width="0.85"/>
<circle cx="144.33" cy="144.76" r="1.45" fill="#ff0000" fill-opacity="0.55" stroke="#ff0000" stroke-width="0.85"/>
<circle cx="146.19" cy="145.26" r="1.45" fill="#ff0000" fill-opacity="0.55" stroke="#ff0000" stroke-width="0.85"/>
<circle cx="149.17" cy="144.53" r="1.45" fill="#ff0000" fill-opacity="0.55" stroke="#ff0000" stroke-width="0.85"/>
<circle cx="151.62" cy="144.56" r="1.45" fill="#ff0000" fill-opacity="0.55" stroke="#ff0000" stroke-width="0.85"/>
<circle cx="142.23" cy="146.30" r="1.45" fill="#ff0000" fill-opacity="0.55" stroke="#ff0000" stroke-width="0.85"/>
<circle cx="144.74" cy="146.31" r="1.45" fill="#ff0000" fill-opacity="0.55" stroke="#ff0000" stroke-width="0.85"/>
<circle cx="147.36" cy="146.02" r="1.45" fill="#ff0000" fill-opacity="0.55" stroke="#ff0000" stroke-width="0.85"/>
<circle cx="150.37" cy="146.18" r="1.45" fill="#ff0000" fill-opacity="0.55" stroke="#ff0000" stroke-width="0.85"/>
<circle cx="153.20" cy="145.73" r="1.45" fill="#ff0000" fill-opacity="0.55" stroke="#ff0000" stroke-width="0.85"/>
<circle cx="140.47" cy="147.58" r="1.45" fill="#ff0000" fill-opacity="0.55" stroke="#ff0000" stroke-width="0.85"/>
<circle cx="143.76" cy="147.94" r="1.45" fill="#ff0000" fill-opacity="0.55" stroke="#ff0000" stroke-width="0.85"/>
<circle cx="146.90" cy="148.09" r="1.45" fill="#ff0000" fill-opacity="0.55" stroke="#ff0000" stroke-width="0.85"/>
<circle cx="149.76" cy="148.35" r="1.45" fill="#ff0000" fill-opacity="0.55" stroke="#ff0000" stroke-width="0.85"/>
<circle cx="152.21" cy="147.69" r="1.45" fill="#ff0000" fill-opacity="0.55" stroke="#ff0000" stroke-width="0.85"/>
<circle cx="142.90" cy="149.08" r="1.45" fill="#ff0000" fill-opacity="0.55" stroke="#ff0000" stroke-width="0.85"/>
<circle cx="145.45" cy="149.67" r="1.45" fill="#ff0000" fill-opacity="0.55" stroke="#ff0000" stroke-width="0.85"/>
<circle cx="147.41" cy="149.90" r="1.45" fill="#ff0000" fill-opacity="0.55" stroke="#ff0000" stroke-width="0.85"/>
<circle cx="151.51" cy="149.65" r="1.45" fill="#ff0000" fill-opacity="0.55" stroke="#ff0000" stroke-width="0.85"/>
<circle cx="154.21" cy="149.87" r="1.45" fill="#ff0000" fill-opacity="0.55" stroke="#ff0000" stroke-width="0.85"/>
<circle cx="140.19" cy="151.13" r="1.45" fill="#ff0000" fill-opacity="0.55" stroke="#ff0000" stroke-width="0.85"/>
<circle cx="143.04" cy="151.50" r="1.45" fill="#ff0000" fill-opacity="0.55" stroke="#ff0000" stroke-width="0.85"/>
<circle cx="145.81" cy="151.49" r="1.45" fill="#ff0000" fill-opacity="0.55" stroke="#ff0000" stroke-width="0.85"/>
<circle cx="147.84" cy="151.57" r="1.45" fill="#ff0000" fill-opacity="0.55" stroke="#ff0000" stroke-width="0.85"/>
<circle cx="150.32" cy="151.33" r="1.45" fill="#ff0000" fill-opacity="0.55" stroke="#ff0000" stroke-width="0.85"/>
<circle cx="152.03" cy="150.54" r="1.45" fill="#ff0000" fill-opacity="0.55" stroke="#ff0000" stroke-width="0.85"/>
<circle cx="141.66" cy="152.53" r="1.45" fill="#ff0000" fill-opacity="0.55" stroke="#ff0000" stroke-width="0.85"/>
<circle cx="143.97" cy="153.10" r="1.45" fill="#ff0000" fill-opacity="0.55" stroke="#ff0000" stroke-width="0.85"/>
<circle cx="146.96" cy="152.85" r="1.45" fill="#ff0000" fill-opacity="0.55" stroke="#ff0000" stroke-width="0.85"/>
<circle cx="149.40" cy="152.92" r="1.45" fill="#ff0000" fill-opacity="0.55" stroke="#ff0000" stroke-width="0.85"/>
<circle cx="151.56" cy="152.10" r="1.45" fill="#ff0000" fill-opacity="0.55" stroke="#ff0000" stroke-width="0.85"/>
<circle cx="154.34" cy="153.00" r="1.45" fill="#ff0000" fill-opacity="0.55" stroke="#ff0000" stroke-width="0.85"/>
<circle cx="140.66" cy="154.34" r="1.45" fill="#ff0000" fill-opacity="0.55" stroke="#ff0000" stroke-width="0.85"/>
<circle cx="143.23" cy="153.78" r="1.45" fill="#ff0000" fill-opacity="0.55" stroke="#ff0000" stroke-width="0.85"/>
<circle cx="145.70" cy="154.00" r="1.45" fill="#ff0000" fill-opacity="0.55" stroke="#ff0000" stroke-width="0.85"/>
<circle cx="147.13" cy="154.02" r="1.45" fill="#ff0000" fill-opacity="0.55" stroke="#ff0000" stroke-width="0.85"/>
<circle cx="150.41" cy="153.95" r="1.45" fill="#ff0000" fill-opacity="0.55" stroke="#ff0000" stroke-width="0.85"/>
<circle cx="152.78" cy="154.87" r="1.45" fill="#ff0000" fill-opacity="0.55" stroke="#ff0000" stroke-width="0.85"/>
<circle cx="142.12" cy="155.76" r="1.45" fill="#ff0000" fill-opacity="0.55" stroke="#ff0000" stroke-width="0.85"/>
<circle cx="144.47" cy="156.12" r="1.45" fill="#ff0000" fill-opacity="0.55" stroke="#ff0000" stroke-width="0.85"/>
<circle cx="147.24" cy="156.04" r="1.45" fill="#ff0000" fill-opacity="0.55" stroke="#ff0000" stroke-width="0.85"/>
<circle cx="149.43" cy="155.39" r="1.45" fill="#ff0000" fill-opacity="0.55" stroke="#ff0000" stroke-width="0.85"/>
<circle cx="151.11" cy="155.60" r="1.45" fill="#ff0000" fill-opacity="0.55" stroke="#ff0000" stroke-width="0.85"/>
<circle cx="154.31" cy="155.67" r="1.45" fill="#ff0000" fill-opacity="0.55" stroke="#ff0000" stroke-width="0.85"/>
<circle cx="140.70" cy="156.91" r="1.45" fill="#ff0000" fill-opacity="0.55" stroke="#ff0000" stroke-width="0.85"/>
<circle cx="142.37" cy="157.22" r="1.45" fill="#ff0000" fill-opacity="0.55" stroke="#ff0000" stroke-width="0.85"/>
<circle cx="145.60" cy="157.73" r="1.45" fill="#ff0000" fill-opacity="0.55" stroke="#ff0000" stroke-width="0.85"/>
<circle cx="147.98" cy="157.25" r="1.45" fill="#ff0000" fill-opacity="0.55" stroke="#ff0000" stroke-width="0.85"/>
<circle cx="150.14" cy="157.46" r="1.45" fill="#ff0000" fill-opacity="0.55" stroke="#ff0000" stroke-width="0.85"/>
<circle cx="152.45" cy="157.04" r="1.45" fill="#ff0000" fill-opacity="0.55" stroke="#ff0000" stroke-width="0.85"/>
<circle cx="144.28" cy="158.74" r="1.45" fill="#ff0000" fill-opacity="0.55" stroke="#ff0000" stroke-width="0.85"/>
<circle cx="147.28" cy="159.62" r="1.45" fill="#ff0000" fill-opacity="0.55" stroke="#ff0000" stroke-width="0.85"/>
<circle cx="148.82" cy="159.05" r="1.45" fill="#ff0000" fill-opacity="0.55" stroke="#ff0000" stroke-width="0.85"/>
<circle cx="152.82" cy="159.66" r="1.45" fill="#ff0000" fill-opacity="0.55" stroke="#ff0000" stroke-width="0.85"/>
<circle cx="147.30" cy="106.20" r="1.45" fill="#ff0000" fill-opacity="0.55" stroke="#ff0000" stroke-width="0.85"/>
<circle cx="147.30" cy="160.20" r="1.45" fill="#ff0000" fill-opacity="0.55" stroke="#ff0000" stroke-width="0.85"/>
<rect x="140.50" y="140.10" width="14.10" height="11.20" fill="none" stroke="#4a4a4a" stroke-width="0.8" stroke-opacity="0.4"/>
<line x1="169.30" y1="137.90" x2="169.30" y2="164.20" stroke="#444" stroke-width="0.9"/>
<line x1="166.30" y1="137.90" x2="172.30" y2="137.90" stroke="#444" stroke-width="0.9"/>
<line x1="166.30" y1="164.20" x2="172.30" y2="164.20" stroke="#444" stroke-width="0.9"/>
<rect x="162.00" y="146.00" width="14.90" height="6.80" fill="none" stroke="#4a4a4a" stroke-width="0.95"/>
<circle cx="168.48" cy="139.22" r="1.45" fill="#a00a0a" fill-opacity="0.45" stroke="#a00a0a" stroke-width="0.85"/>
<circle cx="167.64" cy="141.83" r="1.45" fill="#a00a0a" fill-opacity="0.45" stroke="#a00a0a" stroke-width="0.85"/>
<circle cx="171.64" cy="141.40" r="1.45" fill="#a00a0a" fill-opacity="0.45" stroke="#a00a0a" stroke-width="0.85"/>
<circle cx="164.31" cy="143.13" r="1.45" fill="#a00a0a" fill-opacity="0.45" stroke="#a00a0a" stroke-width="0.85"/>
<circle cx="167.94" cy="142.66" r="1.45" fill="#a00a0a" fill-opacity="0.45" stroke="#a00a0a" stroke-width="0.85"/>
<circle cx="170.24" cy="143.11" r="1.45" fill="#a00a0a" fill-opacity="0.45" stroke="#a00a0a" stroke-width="0.85"/>
<circle cx="172.83" cy="143.34" r="1.45" fill="#a00a0a" fill-opacity="0.45" stroke="#a00a0a" stroke-width="0.85"/>
<circle cx="165.21" cy="145.38" r="1.45" fill="#a00a0a" fill-opacity="0.45" stroke="#a00a0a" stroke-width="0.85"/>
<circle cx="168.54" cy="144.33" r="1.45" fill="#a00a0a" fill-opacity="0.45" stroke="#a00a0a" stroke-width="0.85"/>
<circle cx="170.84" cy="144.89" r="1.45" fill="#a00a0a" fill-opacity="0.45" stroke="#a00a0a" stroke-width="0.85"/>
<circle cx="174.44" cy="144.66" r="1.45" fill="#a00a0a" fill-opacity="0.45" stroke="#a00a0a" stroke-width="0.85"/>
<circle cx="162.87" cy="146.51" r="1.45" fill="#a00a0a" fill-opacity="0.45" stroke="#a00a0a" stroke-width="0.85"/>
<circle cx="165.70" cy="147.11" r="1.45" fill="#a00a0a" fill-opacity="0.45" stroke="#a00a0a" stroke-width="0.85"/>
<circle cx="167.85" cy="147.00" r="1.45" fill="#a00a0a" fill-opacity="0.45" stroke="#a00a0a" stroke-width="0.85"/>
<circle cx="171.61" cy="146.24" r="1.45" fill="#a00a0a" fill-opacity="0.45" stroke="#a00a0a" stroke-width="0.85"/>
<circle cx="174.33" cy="146.96" r="1.45" fill="#a00a0a" fill-opacity="0.45" stroke="#a00a0a" stroke-width="0.85"/>
<circle cx="165.08" cy="148.25" r="1.45" fill="#a00a0a" fill-opacity="0.45" stroke="#a00a0a" stroke-width="0.85"/>
<circle cx="167.10" cy="148.37" r="1.45" fill="#a00a0a" fill-opacity="0.45" stroke="#a00a0a" stroke-width="0.85"/>
<circle cx="170.75" cy="148.61" r="1.45" fill="#a00a0a" fill-opacity="0.45" stroke="#a00a0a" stroke-width="0.85"/>
<circle cx="172.62" cy="148.41" r="1.45" fill="#a00a0a" fill-opacity="0.45" stroke="#a00a0a" stroke-width="0.85"/>
<circle cx="175.27" cy="147.96" r="1.45" fill="#a00a0a" fill-opacity="0.45" stroke="#a00a0a" stroke-width="0.85"/>
<circle cx="163.06" cy="150.70" r="1.45" fill="#a00a0a" fill-opacity="0.45" stroke="#a00a0a" stroke-width="0.85"/>
<circle cx="166.61" cy="150.82" r="1.45" fill="#a00a0a" fill-opacity="0.45" stroke="#a00a0a" stroke-width="0.85"/>
<circle cx="169.84" cy="150.02" r="1.45" fill="#a00a0a" fill-opacity="0.45" stroke="#a00a0a" stroke-width="0.85"/>
<circle cx="173.50" cy="149.93" r="1.45" fill="#a00a0a" fill-opacity="0.45" stroke="#a00a0a" stroke-width="0.85"/>
<circle cx="165.57" cy="152.65" r="1.45" fill="#a00a0a" fill-opacity="0.45" stroke="#a00a0a" stroke-width="0.85"/>
<circle cx="169.15" cy="152.47" r="1.45" fill="#a00a0a" fill-opacity="0.45" stroke="#a00a0a" stroke-width="0.85"/>
<circle cx="171.67" cy="152.60" r="1.45" fill="#a00a0a" fill-opacity="0.45" stroke="#a00a0a" stroke-width="0.85"/>
<circle cx="174.97" cy="152.16" r="1.45" fill="#a00a0a" fill-opacity="0.45" stroke="#a00a0a" stroke-width="0.85"/>
<circle cx="165.21" cy="153.36" r="1.45" fill="#a00a0a" fill-opacity="0.45" stroke="#a00a0a" stroke-width="0.85"/>
<circle cx="167.66" cy="153.84" r="1.45" fill="#a00a0a" fill-opacity="0.45" stroke="#a00a0a" stroke-width="0.85"/>
<circle cx="170.12" cy="154.07" r="1.45" fill="#a00a0a" fill-opacity="0.45" stroke="#a00a0a" stroke-width="0.85"/>
<circle cx="171.90" cy="153.36" r="1.45" fill="#a00a0a" fill-opacity="0.45" stroke="#a00a0a" stroke-width="0.85"/>
<circle cx="167.66" cy="155.25" r="1.45" fill="#a00a0a" fill-opacity="0.45" stroke="#a00a0a" stroke-width="0.85"/>
<circle cx="170.01" cy="155.51" r="1.45" fill="#a00a0a" fill-opacity="0.45" stroke="#a00a0a" stroke-width="0.85"/>
<circle cx="172.76" cy="155.99" r="1.45" fill="#a00a0a" fill-opacity="0.45" stroke="#a00a0a" stroke-width="0.85"/>
<circle cx="167.32" cy="157.21" r="1.45" fill="#a00a0a" fill-opacity="0.45" stroke="#a00a0a" stroke-width="0.85"/>
<circle cx="170.67" cy="157.26" r="1.45" fill="#a00a0a" fill-opacity="0.45" stroke="#a00a0a" stroke-width="0.85"/>
<circle cx="170.13" cy="159.17" r="1.45" fill="#a00a0a" fill-opacity="0.45" stroke="#a00a0a" stroke-width="0.85"/>
<circle cx="168.08" cy="160.69" r="1.45" fill="#a00a0a" fill-opacity="0.45" stroke="#a00a0a" stroke-width="0.85"/>
<circle cx="169.30" cy="137.90" r="1.45" fill="#a00a0a" fill-opacity="0.45" stroke="#a00a0a" stroke-width="0.85"/>
<circle cx="169.30" cy="164.20" r="1.45" fill="#a00a0a" fill-opacity="0.45" stroke="#a00a0a" stroke-width="0.85"/>
<rect x="162.00" y="146.00" width="14.90" height="6.80" fill="none" stroke="#4a4a4a" stroke-width="0.8" stroke-opacity="0.4"/>
<text x="192.50" y="23.10" font-size="8.45" text-anchor="start" font-weight="normal" fill="#111" >Result of ANOVA test</text>
<line x1="191.20" y1="25.70" x2="354.20" y2="25.70" stroke="#1a1a1a" stroke-width="1.6"/>
<text x="192.50" y="35.40" font-size="8.15" text-anchor="start" font-weight="normal" fill="#111" >Tukey's multiple</text>
<text x="192.50" y="44.70" font-size="8.15" text-anchor="start" font-weight="normal" fill="#111" >comparisons test</text>
<text x="353.60" y="44.70" font-size="8.15" text-anchor="end" font-weight="normal" fill="#111" ><tspan font-style="italic">P</tspan> Value</text>
<line x1="191.20" y1="46.10" x2="354.20" y2="46.10" stroke="#222" stroke-width="1.0"/>
<text x="192.30" y="55.10" font-size="8.15" text-anchor="start" font-weight="normal" fill="#111" >NL vs. CH</text>
<text x="353.30" y="55.10" font-size="8.15" text-anchor="end" font-weight="normal" fill="#111" >0.99</text>
<text x="192.30" y="65.70" font-size="8.15" text-anchor="start" font-weight="normal" fill="#111" >NL vs. LC</text>
<text x="353.30" y="65.70" font-size="8.15" text-anchor="end" font-weight="normal" fill="#111" >&lt;0.001</text>
<text x="192.30" y="76.30" font-size="8.15" text-anchor="start" font-weight="normal" fill="#111" >NL vs. mUICC I</text>
<text x="353.30" y="76.30" font-size="8.15" text-anchor="end" font-weight="normal" fill="#111" >&lt;0.001</text>
<text x="192.30" y="86.90" font-size="8.15" text-anchor="start" font-weight="normal" fill="#111" >NL vs. mUICC II</text>
<text x="353.30" y="86.90" font-size="8.15" text-anchor="end" font-weight="normal" fill="#111" >&lt;0.001</text>
<text x="192.30" y="97.50" font-size="8.15" text-anchor="start" font-weight="normal" fill="#111" >NL vs. mUICC III/IV</text>
<text x="353.30" y="97.50" font-size="8.15" text-anchor="end" font-weight="normal" fill="#111" >&lt;0.001</text>
<text x="192.30" y="108.10" font-size="8.15" text-anchor="start" font-weight="normal" fill="#111" >CH vs. LC</text>
<text x="353.30" y="108.10" font-size="8.15" text-anchor="end" font-weight="normal" fill="#111" >&lt;0.001</text>
<text x="192.30" y="118.70" font-size="8.15" text-anchor="start" font-weight="normal" fill="#111" >CH vs. mUICC I</text>
<text x="353.30" y="118.70" font-size="8.15" text-anchor="end" font-weight="normal" fill="#111" >&lt;0.001</text>
<text x="192.30" y="129.30" font-size="8.15" text-anchor="start" font-weight="normal" fill="#111" >CH vs. mUICC II</text>
<text x="353.30" y="129.30" font-size="8.15" text-anchor="end" font-weight="normal" fill="#111" >&lt;0.001</text>
<text x="192.30" y="139.90" font-size="8.15" text-anchor="start" font-weight="normal" fill="#111" >CH vs. mUICC III/IV</text>
<text x="353.30" y="139.90" font-size="8.15" text-anchor="end" font-weight="normal" fill="#111" >&lt;0.001</text>
<text x="192.30" y="150.50" font-size="8.15" text-anchor="start" font-weight="normal" fill="#111" >LC vs. mUICC I</text>
<text x="353.30" y="150.50" font-size="8.15" text-anchor="end" font-weight="normal" fill="#111" >0.42</text>
<text x="192.30" y="161.10" font-size="8.15" text-anchor="start" font-weight="normal" fill="#111" >LC vs. mUICC II</text>
<text x="353.30" y="161.10" font-size="8.15" text-anchor="end" font-weight="normal" fill="#111" >0.004</text>
<text x="192.30" y="171.70" font-size="8.15" text-anchor="start" font-weight="normal" fill="#111" >LC vs. mUICC III/IV</text>
<text x="353.30" y="171.70" font-size="8.15" text-anchor="end" font-weight="normal" fill="#111" >0.99</text>
<text x="192.30" y="182.30" font-size="8.15" text-anchor="start" font-weight="normal" fill="#111" >mUICC I vs. mUICC II</text>
<text x="353.30" y="182.30" font-size="8.15" text-anchor="end" font-weight="normal" fill="#111" >0.47</text>
<text x="192.30" y="192.90" font-size="8.15" text-anchor="start" font-weight="normal" fill="#111" >mUICC I vs. mUICC III/IV</text>
<text x="353.30" y="192.90" font-size="8.15" text-anchor="end" font-weight="normal" fill="#111" >0.88</text>
<text x="192.30" y="203.50" font-size="8.15" text-anchor="start" font-weight="normal" fill="#111" >mUICC II vs. mUICC III/IV</text>
<text x="353.30" y="203.50" font-size="8.15" text-anchor="end" font-weight="normal" fill="#111" >0.08</text>
<line x1="191.20" y1="205.50" x2="354.20" y2="205.50" stroke="#1a1a1a" stroke-width="1.4"/>
<rect x="400.00" y="43.10" width="136.50" height="136.00" fill="none" stroke="#333" stroke-width="1.3"/>
<line x1="403.25" y1="179.10" x2="403.25" y2="176.10" stroke="#333" stroke-width="1.0"/>
<line x1="400.00" y1="175.86" x2="403.00" y2="175.86" stroke="#333" stroke-width="1.0"/>
<line x1="409.75" y1="179.10" x2="409.75" y2="177.10" stroke="#333" stroke-width="1.0"/>
<line x1="400.00" y1="169.39" x2="402.00" y2="169.39" stroke="#333" stroke-width="1.0"/>
<line x1="416.25" y1="179.10" x2="416.25" y2="177.10" stroke="#333" stroke-width="1.0"/>
<line x1="400.00" y1="162.91" x2="402.00" y2="162.91" stroke="#333" stroke-width="1.0"/>
<line x1="422.75" y1="179.10" x2="422.75" y2="177.10" stroke="#333" stroke-width="1.0"/>
<line x1="400.00" y1="156.43" x2="402.00" y2="156.43" stroke="#333" stroke-width="1.0"/>
<line x1="429.25" y1="179.10" x2="429.25" y2="176.10" stroke="#333" stroke-width="1.0"/>
<line x1="400.00" y1="149.96" x2="403.00" y2="149.96" stroke="#333" stroke-width="1.0"/>
<line x1="435.75" y1="179.10" x2="435.75" y2="177.10" stroke="#333" stroke-width="1.0"/>
<line x1="400.00" y1="143.48" x2="402.00" y2="143.48" stroke="#333" stroke-width="1.0"/>
<line x1="442.25" y1="179.10" x2="442.25" y2="177.10" stroke="#333" stroke-width="1.0"/>
<line x1="400.00" y1="137.00" x2="402.00" y2="137.00" stroke="#333" stroke-width="1.0"/>
<line x1="448.75" y1="179.10" x2="448.75" y2="177.10" stroke="#333" stroke-width="1.0"/>
<line x1="400.00" y1="130.53" x2="402.00" y2="130.53" stroke="#333" stroke-width="1.0"/>
<line x1="455.25" y1="179.10" x2="455.25" y2="176.10" stroke="#333" stroke-width="1.0"/>
<line x1="400.00" y1="124.05" x2="403.00" y2="124.05" stroke="#333" stroke-width="1.0"/>
<line x1="461.75" y1="179.10" x2="461.75" y2="177.10" stroke="#333" stroke-width="1.0"/>
<line x1="400.00" y1="117.58" x2="402.00" y2="117.58" stroke="#333" stroke-width="1.0"/>
<line x1="468.25" y1="179.10" x2="468.25" y2="177.10" stroke="#333" stroke-width="1.0"/>
<line x1="400.00" y1="111.10" x2="402.00" y2="111.10" stroke="#333" stroke-width="1.0"/>
<line x1="474.75" y1="179.10" x2="474.75" y2="177.10" stroke="#333" stroke-width="1.0"/>
<line x1="400.00" y1="104.62" x2="402.00" y2="104.62" stroke="#333" stroke-width="1.0"/>
<line x1="481.25" y1="179.10" x2="481.25" y2="176.10" stroke="#333" stroke-width="1.0"/>
<line x1="400.00" y1="98.15" x2="403.00" y2="98.15" stroke="#333" stroke-width="1.0"/>
<line x1="487.75" y1="179.10" x2="487.75" y2="177.10" stroke="#333" stroke-width="1.0"/>
<line x1="400.00" y1="91.67" x2="402.00" y2="91.67" stroke="#333" stroke-width="1.0"/>
<line x1="494.25" y1="179.10" x2="494.25" y2="177.10" stroke="#333" stroke-width="1.0"/>
<line x1="400.00" y1="85.20" x2="402.00" y2="85.20" stroke="#333" stroke-width="1.0"/>
<line x1="500.75" y1="179.10" x2="500.75" y2="177.10" stroke="#333" stroke-width="1.0"/>
<line x1="400.00" y1="78.72" x2="402.00" y2="78.72" stroke="#333" stroke-width="1.0"/>
<line x1="507.25" y1="179.10" x2="507.25" y2="176.10" stroke="#333" stroke-width="1.0"/>
<line x1="400.00" y1="72.24" x2="403.00" y2="72.24" stroke="#333" stroke-width="1.0"/>
<line x1="513.75" y1="179.10" x2="513.75" y2="177.10" stroke="#333" stroke-width="1.0"/>
<line x1="400.00" y1="65.77" x2="402.00" y2="65.77" stroke="#333" stroke-width="1.0"/>
<line x1="520.25" y1="179.10" x2="520.25" y2="177.10" stroke="#333" stroke-width="1.0"/>
<line x1="400.00" y1="59.29" x2="402.00" y2="59.29" stroke="#333" stroke-width="1.0"/>
<line x1="526.75" y1="179.10" x2="526.75" y2="177.10" stroke="#333" stroke-width="1.0"/>
<line x1="400.00" y1="52.81" x2="402.00" y2="52.81" stroke="#333" stroke-width="1.0"/>
<line x1="533.25" y1="179.10" x2="533.25" y2="176.10" stroke="#333" stroke-width="1.0"/>
<line x1="400.00" y1="46.34" x2="403.00" y2="46.34" stroke="#333" stroke-width="1.0"/>
<text x="403.25" y="192.00" font-size="10.3" text-anchor="middle" font-weight="normal" fill="#222" >0</text>
<text x="395.50" y="180.16" font-size="10.3" text-anchor="end" font-weight="normal" fill="#222" >0</text>
<text x="429.25" y="192.00" font-size="10.3" text-anchor="middle" font-weight="normal" fill="#222" >20</text>
<text x="395.50" y="154.26" font-size="10.3" text-anchor="end" font-weight="normal" fill="#222" >20</text>
<text x="455.25" y="192.00" font-size="10.3" text-anchor="middle" font-weight="normal" fill="#222" >40</text>
<text x="395.50" y="128.35" font-size="10.3" text-anchor="end" font-weight="normal" fill="#222" >40</text>
<text x="481.25" y="192.00" font-size="10.3" text-anchor="middle" font-weight="normal" fill="#222" >60</text>
<text x="395.50" y="102.45" font-size="10.3" text-anchor="end" font-weight="normal" fill="#222" >60</text>
<text x="507.25" y="192.00" font-size="10.3" text-anchor="middle" font-weight="normal" fill="#222" >80</text>
<text x="395.50" y="76.54" font-size="10.3" text-anchor="end" font-weight="normal" fill="#222" >80</text>
<text x="533.25" y="192.00" font-size="10.3" text-anchor="middle" font-weight="normal" fill="#222" >100</text>
<text x="395.50" y="50.64" font-size="10.3" text-anchor="end" font-weight="normal" fill="#222" >100</text>
<line x1="403.25" y1="175.86" x2="533.25" y2="46.34" stroke="#6a6a6a" stroke-width="0.65"/>
<text x="466.30" y="24.60" font-size="10.3" text-anchor="middle" font-weight="normal" fill="#1a1a1a" >Non tumor (n=94)</text>
<text x="465.20" y="35.70" font-size="10.3" text-anchor="middle" font-weight="normal" fill="#1a1a1a" >vs HCC (n=158)</text>
<text x="0.00" y="0.00" font-size="9.4" text-anchor="middle" font-weight="normal" fill="#1a1a1a" transform="translate(377.6,111.3) rotate(-90)">Sensitivity</text>
<text x="469.00" y="203.10" font-size="9.3" text-anchor="middle" font-weight="normal" fill="#1a1a1a" >100-Specificity</text>
<text x="528.10" y="148.10" font-size="9" text-anchor="end" font-weight="normal" fill="#1a1a1a" >AUC=0.817</text>
<text x="528.10" y="159.00" font-size="9" text-anchor="end" font-weight="normal" fill="#1a1a1a" >95% CI:0.763-0.863</text>
<text x="528.10" y="169.90" font-size="9" text-anchor="end" font-weight="normal" fill="#1a1a1a" >P&lt;0.001</text>
<path d="M403.25,175.86 L403.25,124.45 L404.17,124.45 L404.17,120.31 L404.69,120.31 L405.44,120.31 L405.44,116.81 L406.93,116.81 L406.93,113.31 L407.68,113.31 L408.46,113.31 L408.46,111.37 L410.02,111.37 L410.02,109.43 L410.80,109.43 L411.38,109.43 L411.38,105.61 L412.55,105.61 L412.55,101.79 L413.14,101.79 L413.85,101.79 L413.85,92.59 L414.57,92.59 L415.35,92.59 L415.35,88.06 L416.13,88.06 L416.71,88.06 L416.71,85.72 L417.88,85.72 L417.88,83.39 L418.47,83.39 L419.25,83.39 L419.25,75.10 L420.03,75.10 L420.78,75.10 L420.78,73.55 L422.27,73.55 L422.27,72.00 L423.02,72.00 L423.67,72.00 L423.67,71.22 L424.97,71.22 L424.97,70.44 L426.27,70.44 L426.27,69.66 L426.92,69.66 L427.67,69.66 L427.67,66.94 L429.16,66.94 L429.16,64.22 L429.91,64.22 L430.54,64.22 L430.54,62.97 L431.79,62.97 L431.79,61.72 L433.05,61.72 L433.05,60.47 L433.68,60.47 L435.50,60.47 L435.50,59.56 L437.32,59.56 L438.08,59.56 L438.08,58.23 L439.61,58.23 L439.61,56.91 L441.14,56.91 L441.14,55.58 L442.67,55.58 L442.67,54.25 L443.43,54.25 L444.39,54.25 L444.39,53.47 L446.31,53.47 L446.31,52.70 L448.22,52.70 L448.22,51.92 L450.14,51.92 L450.14,51.14 L451.10,51.14 L451.85,51.14 L451.85,49.26 L453.34,49.26 L453.34,47.39 L454.09,47.39 L463.97,47.39 L463.97,47.00 L473.85,47.00 L503.75,47.00 L503.75,46.34 L533.25,46.34" fill="none" stroke="#c8c8c8" stroke-width="0.9" stroke-linejoin="miter" stroke-miterlimit="3"/>
<path d="M403.25,175.86 L411.06,175.86 L411.06,151.13 L411.90,151.13 L411.90,146.86 L412.75,146.86 L413.33,146.86 L413.33,146.17 L414.50,146.17 L414.50,145.48 L415.67,145.48 L415.67,144.79 L416.26,144.79 L417.13,144.79 L417.13,144.01 L418.86,144.01 L418.86,143.23 L420.59,143.23 L420.59,142.46 L421.46,142.46 L422.33,142.46 L422.33,141.59 L424.06,141.59 L424.06,140.73 L425.79,140.73 L425.79,139.87 L426.66,139.87 L427.54,139.87 L427.54,138.99 L429.29,138.99 L429.29,138.12 L431.05,138.12 L431.05,137.24 L432.80,137.24 L432.80,136.37 L433.68,136.37 L434.26,136.37 L434.26,135.46 L435.44,135.46 L435.44,134.56 L436.60,134.56 L436.60,133.65 L437.19,133.65 L438.10,133.65 L438.10,126.65 L439.01,126.65 L439.66,126.65 L439.66,122.32 L440.96,122.32 L440.96,117.98 L441.61,117.98 L442.45,117.98 L442.45,114.48 L443.30,114.48 L443.95,114.48 L443.95,110.98 L445.25,110.98 L445.25,107.48 L445.90,107.48 L446.45,107.48 L446.45,105.35 L447.56,105.35 L447.56,103.21 L448.11,103.21 L448.86,103.21 L448.86,100.56 L450.35,100.56 L450.35,97.90 L451.10,97.90 L451.86,97.90 L451.86,95.99 L453.39,95.99 L453.39,94.08 L454.92,94.08 L454.92,92.17 L456.45,92.17 L456.45,90.26 L457.21,90.26 L457.97,90.26 L457.97,88.90 L459.50,88.90 L459.50,87.54 L461.03,87.54 L461.03,86.18 L462.56,86.18 L462.56,84.82 L463.32,84.82 L464.07,84.82 L464.07,84.07 L465.58,84.07 L465.58,83.32 L467.09,83.32 L467.09,82.56 L468.60,82.56 L468.60,81.81 L470.11,81.81 L470.11,81.06 L470.86,81.06 L471.55,81.06 L471.55,79.55 L472.94,79.55 L472.94,78.04 L474.33,78.04 L474.33,76.53 L475.02,76.53 L475.74,76.53 L475.74,71.09 L476.45,71.09 L477.62,71.09 L477.62,70.31 L479.96,70.31 L479.96,69.53 L481.13,69.53 L481.89,69.53 L481.89,68.02 L483.40,68.02 L483.40,66.51 L484.92,66.51 L484.92,65.00 L485.68,65.00 L486.39,65.00 L486.39,58.91 L487.11,58.91 L487.89,58.91 L487.89,56.97 L489.45,56.97 L489.45,55.03 L490.23,55.03 L490.62,55.03 L490.62,52.70 L491.01,52.70 L531.57,52.70 L532.09,52.70 L532.09,49.72 L533.13,49.72 L533.13,46.34 L533.25,46.34" fill="none" stroke="#c8c8c8" stroke-width="0.9" stroke-linejoin="miter" stroke-miterlimit="3"/>
<path d="M403.25,175.86 L403.25,139.81 L404.27,139.81 L404.27,135.66 L404.60,135.66 L405.19,135.66 L405.19,134.24 L405.77,134.24 L406.81,134.24 L406.81,133.85 L407.85,133.85 L408.69,133.85 L408.69,132.16 L409.54,132.16 L410.32,132.16 L410.32,130.61 L411.10,130.61 L411.85,130.61 L411.85,128.60 L413.34,128.60 L413.34,126.60 L414.09,126.60 L414.87,126.60 L414.87,125.82 L416.43,125.82 L416.43,125.04 L417.99,125.04 L417.99,124.26 L418.77,124.26 L419.42,124.26 L419.42,123.23 L420.72,123.23 L420.72,122.19 L422.02,122.19 L422.02,121.16 L422.67,121.16 L423.38,121.16 L423.38,112.74 L424.10,112.74 L424.69,112.74 L424.69,107.36 L425.85,107.36 L425.85,101.99 L426.44,101.99 L426.99,101.99 L426.99,99.72 L428.10,99.72 L428.10,97.45 L428.65,97.45 L429.59,97.45 L429.59,96.68 L431.48,96.68 L431.48,95.90 L432.42,95.90 L432.88,95.90 L432.88,86.70 L433.33,86.70 L433.88,86.70 L433.88,84.76 L434.99,84.76 L434.99,82.82 L435.54,82.82 L437.20,82.82 L437.20,82.04 L440.51,82.04 L440.51,81.26 L442.17,81.26 L442.75,81.26 L442.75,77.05 L443.93,77.05 L443.93,72.84 L444.51,72.84 L447.18,72.84 L447.18,72.07 L449.84,72.07 L450.43,72.07 L450.43,70.90 L451.59,70.90 L451.59,69.73 L452.18,69.73 L453.07,69.73 L453.07,68.96 L454.84,68.96 L454.84,68.18 L456.62,68.18 L456.62,67.40 L457.51,67.40 L458.29,67.40 L458.29,61.32 L459.07,61.32 L460.21,61.32 L460.21,60.54 L462.48,60.54 L462.48,59.76 L463.62,59.76 L465.89,59.76 L465.89,59.11 L468.17,59.11 L468.75,59.11 L468.75,55.23 L469.34,55.23 L469.93,55.23 L469.93,51.34 L470.51,51.34 L471.35,51.34 L471.35,50.69 L472.20,50.69 L472.79,50.69 L472.79,49.33 L473.95,49.33 L473.95,47.97 L474.54,47.97 L519.52,47.97 L519.52,46.47 L526.74,46.47 L526.74,46.34 L533.25,46.34" fill="none" stroke="#ff0000" stroke-width="1.9" stroke-linejoin="miter" stroke-miterlimit="3"/>
<line x1="30.00" y1="279.20" x2="30.00" y2="434.30" stroke="#9c9c9c" stroke-width="1.5"/>
<line x1="29.30" y1="434.30" x2="542.80" y2="434.30" stroke="#5a5a5a" stroke-width="1.2"/>
<text x="0.00" y="0.00" font-size="12" text-anchor="middle" font-weight="normal" fill="#1a1a1a" transform="translate(21.8,356.4) rotate(-90)">Sensitivity</text>
<text x="292.40" y="451.50" font-size="12" text-anchor="middle" font-weight="normal" fill="#1a1a1a" >100-Specificity</text>
<rect x="53.30" y="277.40" width="139.50" height="139.90" fill="none" stroke="#333" stroke-width="1.3"/>
<line x1="57.10" y1="417.30" x2="57.10" y2="414.30" stroke="#333" stroke-width="1.0"/>
<line x1="53.30" y1="413.70" x2="56.30" y2="413.70" stroke="#333" stroke-width="1.0"/>
<line x1="63.72" y1="417.30" x2="63.72" y2="415.30" stroke="#333" stroke-width="1.0"/>
<line x1="53.30" y1="407.06" x2="55.30" y2="407.06" stroke="#333" stroke-width="1.0"/>
<line x1="70.34" y1="417.30" x2="70.34" y2="415.30" stroke="#333" stroke-width="1.0"/>
<line x1="53.30" y1="400.43" x2="55.30" y2="400.43" stroke="#333" stroke-width="1.0"/>
<line x1="76.96" y1="417.30" x2="76.96" y2="415.30" stroke="#333" stroke-width="1.0"/>
<line x1="53.30" y1="393.79" x2="55.30" y2="393.79" stroke="#333" stroke-width="1.0"/>
<line x1="83.58" y1="417.30" x2="83.58" y2="414.30" stroke="#333" stroke-width="1.0"/>
<line x1="53.30" y1="387.16" x2="56.30" y2="387.16" stroke="#333" stroke-width="1.0"/>
<line x1="90.20" y1="417.30" x2="90.20" y2="415.30" stroke="#333" stroke-width="1.0"/>
<line x1="53.30" y1="380.52" x2="55.30" y2="380.52" stroke="#333" stroke-width="1.0"/>
<line x1="96.82" y1="417.30" x2="96.82" y2="415.30" stroke="#333" stroke-width="1.0"/>
<line x1="53.30" y1="373.89" x2="55.30" y2="373.89" stroke="#333" stroke-width="1.0"/>
<line x1="103.44" y1="417.30" x2="103.44" y2="415.30" stroke="#333" stroke-width="1.0"/>
<line x1="53.30" y1="367.25" x2="55.30" y2="367.25" stroke="#333" stroke-width="1.0"/>
<line x1="110.06" y1="417.30" x2="110.06" y2="414.30" stroke="#333" stroke-width="1.0"/>
<line x1="53.30" y1="360.62" x2="56.30" y2="360.62" stroke="#333" stroke-width="1.0"/>
<line x1="116.68" y1="417.30" x2="116.68" y2="415.30" stroke="#333" stroke-width="1.0"/>
<line x1="53.30" y1="353.98" x2="55.30" y2="353.98" stroke="#333" stroke-width="1.0"/>
<line x1="123.30" y1="417.30" x2="123.30" y2="415.30" stroke="#333" stroke-width="1.0"/>
<line x1="53.30" y1="347.35" x2="55.30" y2="347.35" stroke="#333" stroke-width="1.0"/>
<line x1="129.92" y1="417.30" x2="129.92" y2="415.30" stroke="#333" stroke-width="1.0"/>
<line x1="53.30" y1="340.71" x2="55.30" y2="340.71" stroke="#333" stroke-width="1.0"/>
<line x1="136.54" y1="417.30" x2="136.54" y2="414.30" stroke="#333" stroke-width="1.0"/>
<line x1="53.30" y1="334.08" x2="56.30" y2="334.08" stroke="#333" stroke-width="1.0"/>
<line x1="143.16" y1="417.30" x2="143.16" y2="415.30" stroke="#333" stroke-width="1.0"/>
<line x1="53.30" y1="327.44" x2="55.30" y2="327.44" stroke="#333" stroke-width="1.0"/>
<line x1="149.78" y1="417.30" x2="149.78" y2="415.30" stroke="#333" stroke-width="1.0"/>
<line x1="53.30" y1="320.81" x2="55.30" y2="320.81" stroke="#333" stroke-width="1.0"/>
<line x1="156.40" y1="417.30" x2="156.40" y2="415.30" stroke="#333" stroke-width="1.0"/>
<line x1="53.30" y1="314.17" x2="55.30" y2="314.17" stroke="#333" stroke-width="1.0"/>
<line x1="163.02" y1="417.30" x2="163.02" y2="414.30" stroke="#333" stroke-width="1.0"/>
<line x1="53.30" y1="307.54" x2="56.30" y2="307.54" stroke="#333" stroke-width="1.0"/>
<line x1="169.64" y1="417.30" x2="169.64" y2="415.30" stroke="#333" stroke-width="1.0"/>
<line x1="53.30" y1="300.90" x2="55.30" y2="300.90" stroke="#333" stroke-width="1.0"/>
<line x1="176.26" y1="417.30" x2="176.26" y2="415.30" stroke="#333" stroke-width="1.0"/>
<line x1="53.30" y1="294.27" x2="55.30" y2="294.27" stroke="#333" stroke-width="1.0"/>
<line x1="182.88" y1="417.30" x2="182.88" y2="415.30" stroke="#333" stroke-width="1.0"/>
<line x1="53.30" y1="287.63" x2="55.30" y2="287.63" stroke="#333" stroke-width="1.0"/>
<line x1="189.50" y1="417.30" x2="189.50" y2="414.30" stroke="#333" stroke-width="1.0"/>
<line x1="53.30" y1="281.00" x2="56.30" y2="281.00" stroke="#333" stroke-width="1.0"/>
<text x="57.10" y="430.50" font-size="10.6" text-anchor="middle" font-weight="normal" fill="#222" >0</text>
<text x="48.80" y="417.90" font-size="10.6" text-anchor="end" font-weight="normal" fill="#222" >0</text>
<text x="83.58" y="430.50" font-size="10.6" text-anchor="middle" font-weight="normal" fill="#222" >20</text>
<text x="48.80" y="391.36" font-size="10.6" text-anchor="end" font-weight="normal" fill="#222" >20</text>
<text x="110.06" y="430.50" font-size="10.6" text-anchor="middle" font-weight="normal" fill="#222" >40</text>
<text x="48.80" y="364.82" font-size="10.6" text-anchor="end" font-weight="normal" fill="#222" >40</text>
<text x="136.54" y="430.50" font-size="10.6" text-anchor="middle" font-weight="normal" fill="#222" >60</text>
<text x="48.80" y="338.28" font-size="10.6" text-anchor="end" font-weight="normal" fill="#222" >60</text>
<text x="163.02" y="430.50" font-size="10.6" text-anchor="middle" font-weight="normal" fill="#222" >80</text>
<text x="48.80" y="311.74" font-size="10.6" text-anchor="end" font-weight="normal" fill="#222" >80</text>
<text x="189.50" y="430.50" font-size="10.6" text-anchor="middle" font-weight="normal" fill="#222" >100</text>
<text x="48.80" y="285.20" font-size="10.6" text-anchor="end" font-weight="normal" fill="#222" >100</text>
<line x1="57.10" y1="413.70" x2="189.50" y2="281.00" stroke="#6a6a6a" stroke-width="0.65"/>
<text x="124.40" y="255.70" font-size="11.2" text-anchor="middle" font-weight="normal" fill="#1a1a1a" >Non tumor (n=91)</text>
<text x="123.80" y="269.30" font-size="11.2" text-anchor="middle" font-weight="normal" fill="#1a1a1a" >vs HCC (n=158)</text>
<text x="185.20" y="384.20" font-size="10.3" text-anchor="end" font-weight="normal" fill="#1a1a1a" >AFP=0.710</text>
<text x="185.20" y="396.60" font-size="10.3" text-anchor="end" font-weight="normal" fill="#1a1a1a" >ITGA6=0.817</text>
<text x="185.20" y="408.80" font-size="10" text-anchor="end" font-weight="normal" fill="#1a1a1a" ><tspan font-style="italic">P</tspan>=0.0059</text>
<path d="M57.10,413.70 L57.10,389.52 L60.79,389.52 L60.79,381.69 L61.65,381.69 L61.65,375.45 L62.51,375.45 L63.37,375.45 L63.37,372.93 L64.23,372.93 L65.56,372.93 L65.56,372.00 L68.21,372.00 L68.21,371.07 L69.53,371.07 L70.24,371.07 L70.24,370.23 L71.65,370.23 L71.65,369.39 L73.06,369.39 L73.06,368.55 L73.77,368.55 L74.43,368.55 L74.43,367.22 L75.75,367.22 L75.75,365.90 L77.08,365.90 L77.08,364.57 L78.40,364.57 L78.40,363.24 L79.06,363.24 L79.92,363.24 L79.92,361.05 L81.65,361.05 L81.65,358.86 L82.51,358.86 L85.55,358.86 L85.55,357.94 L88.60,357.94 L89.69,357.94 L89.69,357.07 L91.87,357.07 L91.87,356.21 L92.97,356.21 L93.83,356.21 L93.83,355.35 L95.55,355.35 L95.55,354.48 L96.41,354.48 L97.27,354.48 L97.27,353.60 L98.99,353.60 L98.99,352.72 L100.71,352.72 L100.71,351.83 L101.57,351.83 L102.30,351.83 L102.30,346.52 L103.03,346.52 L103.36,346.52 L103.36,341.21 L103.69,341.21 L103.69,332.06 L104.29,332.06 L104.29,330.93 L105.48,330.93 L105.48,329.80 L106.07,329.80 L106.80,329.80 L106.80,329.07 L108.26,329.07 L108.26,328.34 L108.99,328.34 L110.97,328.34 L110.97,327.55 L112.96,327.55 L113.16,327.55 L113.16,322.90 L113.36,322.90 L114.28,322.90 L114.28,316.80 L115.21,316.80 L115.94,316.80 L115.94,311.36 L116.67,311.36 L117.44,311.36 L117.44,310.34 L118.98,310.34 L118.98,309.32 L120.53,309.32 L120.53,308.31 L121.30,308.31 L122.03,308.31 L122.03,301.94 L122.76,301.94 L123.81,301.94 L123.81,300.61 L124.87,300.61 L125.87,300.61 L125.87,299.81 L126.86,299.81 L127.52,299.81 L127.52,295.83 L128.18,295.83 L129.91,295.83 L129.91,295.30 L131.63,295.30 L134.01,295.30 L134.01,294.50 L138.78,294.50 L138.78,293.71 L141.16,293.71 L142.48,293.71 L142.48,292.71 L145.13,292.71 L145.13,291.72 L146.46,291.72 L147.38,291.72 L147.38,291.01 L149.24,291.01 L149.24,290.30 L151.09,290.30 L151.09,289.59 L152.02,289.59 L153.34,289.59 L153.34,288.60 L155.99,288.60 L155.99,287.60 L157.31,287.60 L160.69,287.60 L160.69,286.94 L164.06,286.94 L165.43,286.94 L165.43,286.01 L168.17,286.01 L168.17,285.08 L170.91,285.08 L170.91,284.15 L172.27,284.15 L175.65,284.15 L175.65,283.23 L179.03,283.23 L184.12,283.23 L184.12,282.16 L189.22,282.16 L189.49,282.16 L189.49,281.00 L189.50,281.00" fill="none" stroke="#0a800a" stroke-width="1.7" stroke-linejoin="miter" stroke-miterlimit="3"/>
<path d="M57.10,413.70 L57.10,378.11 L58.21,378.11 L58.21,372.00 L59.07,372.00 L60.33,372.00 L60.33,371.60 L61.59,371.60 L62.25,371.60 L62.25,370.48 L63.57,370.48 L63.57,369.35 L64.23,369.35 L65.10,369.35 L65.10,367.62 L65.96,367.62 L66.82,367.62 L66.82,364.04 L67.68,364.04 L68.54,364.04 L68.54,363.24 L70.26,363.24 L70.26,362.45 L71.12,362.45 L71.78,362.45 L71.78,361.52 L73.11,361.52 L73.11,360.59 L73.77,360.59 L74.63,360.59 L74.63,359.26 L76.35,359.26 L76.35,357.94 L77.21,357.94 L77.67,357.94 L77.67,351.83 L78.14,351.83 L79.00,351.83 L79.00,347.45 L79.86,347.45 L80.26,347.45 L80.26,345.46 L80.65,345.46 L80.65,338.16 L81.91,338.16 L81.91,337.76 L83.17,337.76 L83.57,337.76 L83.57,332.85 L83.96,332.85 L85.48,332.85 L85.48,332.06 L87.01,332.06 L87.40,332.06 L87.40,322.11 L87.80,322.11 L89.46,322.11 L89.46,321.31 L91.11,321.31 L91.31,321.31 L91.31,318.26 L91.51,318.26 L92.87,318.26 L92.87,317.53 L95.58,317.53 L95.58,316.80 L96.94,316.80 L97.53,316.80 L97.53,306.71 L98.13,306.71 L100.91,306.71 L100.91,306.05 L103.69,306.05 L104.09,306.05 L104.09,304.46 L104.48,304.46 L106.01,304.46 L106.01,303.73 L109.05,303.73 L109.05,303.00 L110.57,303.00 L111.17,303.00 L111.17,301.40 L112.36,301.40 L112.36,299.81 L112.96,299.81 L112.96,296.10 L115.61,296.10 L115.61,295.30 L118.25,295.30 L118.82,295.30 L118.82,294.50 L119.94,294.50 L119.94,293.71 L120.50,293.71 L121.30,293.71 L121.30,288.93 L122.09,288.93 L123.09,288.93 L123.09,284.82 L124.08,284.82 L124.77,284.82 L124.77,283.56 L126.16,283.56 L126.16,282.30 L126.86,282.30 L174.52,282.30 L174.52,281.00 L189.50,281.00" fill="none" stroke="#ff0000" stroke-width="1.7" stroke-linejoin="miter" stroke-miterlimit="3"/>
<rect x="225.70" y="277.40" width="140.00" height="139.90" fill="none" stroke="#333" stroke-width="1.3"/>
<line x1="229.50" y1="417.30" x2="229.50" y2="414.30" stroke="#333" stroke-width="1.0"/>
<line x1="225.70" y1="413.70" x2="228.70" y2="413.70" stroke="#333" stroke-width="1.0"/>
<line x1="236.12" y1="417.30" x2="236.12" y2="415.30" stroke="#333" stroke-width="1.0"/>
<line x1="225.70" y1="407.06" x2="227.70" y2="407.06" stroke="#333" stroke-width="1.0"/>
<line x1="242.74" y1="417.30" x2="242.74" y2="415.30" stroke="#333" stroke-width="1.0"/>
<line x1="225.70" y1="400.43" x2="227.70" y2="400.43" stroke="#333" stroke-width="1.0"/>
<line x1="249.36" y1="417.30" x2="249.36" y2="415.30" stroke="#333" stroke-width="1.0"/>
<line x1="225.70" y1="393.79" x2="227.70" y2="393.79" stroke="#333" stroke-width="1.0"/>
<line x1="255.98" y1="417.30" x2="255.98" y2="414.30" stroke="#333" stroke-width="1.0"/>
<line x1="225.70" y1="387.16" x2="228.70" y2="387.16" stroke="#333" stroke-width="1.0"/>
<line x1="262.60" y1="417.30" x2="262.60" y2="415.30" stroke="#333" stroke-width="1.0"/>
<line x1="225.70" y1="380.52" x2="227.70" y2="380.52" stroke="#333" stroke-width="1.0"/>
<line x1="269.22" y1="417.30" x2="269.22" y2="415.30" stroke="#333" stroke-width="1.0"/>
<line x1="225.70" y1="373.89" x2="227.70" y2="373.89" stroke="#333" stroke-width="1.0"/>
<line x1="275.84" y1="417.30" x2="275.84" y2="415.30" stroke="#333" stroke-width="1.0"/>
<line x1="225.70" y1="367.25" x2="227.70" y2="367.25" stroke="#333" stroke-width="1.0"/>
<line x1="282.46" y1="417.30" x2="282.46" y2="414.30" stroke="#333" stroke-width="1.0"/>
<line x1="225.70" y1="360.62" x2="228.70" y2="360.62" stroke="#333" stroke-width="1.0"/>
<line x1="289.08" y1="417.30" x2="289.08" y2="415.30" stroke="#333" stroke-width="1.0"/>
<line x1="225.70" y1="353.98" x2="227.70" y2="353.98" stroke="#333" stroke-width="1.0"/>
<line x1="295.70" y1="417.30" x2="295.70" y2="415.30" stroke="#333" stroke-width="1.0"/>
<line x1="225.70" y1="347.35" x2="227.70" y2="347.35" stroke="#333" stroke-width="1.0"/>
<line x1="302.32" y1="417.30" x2="302.32" y2="415.30" stroke="#333" stroke-width="1.0"/>
<line x1="225.70" y1="340.71" x2="227.70" y2="340.71" stroke="#333" stroke-width="1.0"/>
<line x1="308.94" y1="417.30" x2="308.94" y2="414.30" stroke="#333" stroke-width="1.0"/>
<line x1="225.70" y1="334.08" x2="228.70" y2="334.08" stroke="#333" stroke-width="1.0"/>
<line x1="315.56" y1="417.30" x2="315.56" y2="415.30" stroke="#333" stroke-width="1.0"/>
<line x1="225.70" y1="327.44" x2="227.70" y2="327.44" stroke="#333" stroke-width="1.0"/>
<line x1="322.18" y1="417.30" x2="322.18" y2="415.30" stroke="#333" stroke-width="1.0"/>
<line x1="225.70" y1="320.81" x2="227.70" y2="320.81" stroke="#333" stroke-width="1.0"/>
<line x1="328.80" y1="417.30" x2="328.80" y2="415.30" stroke="#333" stroke-width="1.0"/>
<line x1="225.70" y1="314.17" x2="227.70" y2="314.17" stroke="#333" stroke-width="1.0"/>
<line x1="335.42" y1="417.30" x2="335.42" y2="414.30" stroke="#333" stroke-width="1.0"/>
<line x1="225.70" y1="307.54" x2="228.70" y2="307.54" stroke="#333" stroke-width="1.0"/>
<line x1="342.04" y1="417.30" x2="342.04" y2="415.30" stroke="#333" stroke-width="1.0"/>
<line x1="225.70" y1="300.90" x2="227.70" y2="300.90" stroke="#333" stroke-width="1.0"/>
<line x1="348.66" y1="417.30" x2="348.66" y2="415.30" stroke="#333" stroke-width="1.0"/>
<line x1="225.70" y1="294.27" x2="227.70" y2="294.27" stroke="#333" stroke-width="1.0"/>
<line x1="355.28" y1="417.30" x2="355.28" y2="415.30" stroke="#333" stroke-width="1.0"/>
<line x1="225.70" y1="287.63" x2="227.70" y2="287.63" stroke="#333" stroke-width="1.0"/>
<line x1="361.90" y1="417.30" x2="361.90" y2="414.30" stroke="#333" stroke-width="1.0"/>
<line x1="225.70" y1="281.00" x2="228.70" y2="281.00" stroke="#333" stroke-width="1.0"/>
<text x="229.50" y="430.50" font-size="10.6" text-anchor="middle" font-weight="normal" fill="#222" >0</text>
<text x="221.20" y="417.90" font-size="10.6" text-anchor="end" font-weight="normal" fill="#222" >0</text>
<text x="255.98" y="430.50" font-size="10.6" text-anchor="middle" font-weight="normal" fill="#222" >20</text>
<text x="221.20" y="391.36" font-size="10.6" text-anchor="end" font-weight="normal" fill="#222" >20</text>
<text x="282.46" y="430.50" font-size="10.6" text-anchor="middle" font-weight="normal" fill="#222" >40</text>
<text x="221.20" y="364.82" font-size="10.6" text-anchor="end" font-weight="normal" fill="#222" >40</text>
<text x="308.94" y="430.50" font-size="10.6" text-anchor="middle" font-weight="normal" fill="#222" >60</text>
<text x="221.20" y="338.28" font-size="10.6" text-anchor="end" font-weight="normal" fill="#222" >60</text>
<text x="335.42" y="430.50" font-size="10.6" text-anchor="middle" font-weight="normal" fill="#222" >80</text>
<text x="221.20" y="311.74" font-size="10.6" text-anchor="end" font-weight="normal" fill="#222" >80</text>
<text x="361.90" y="430.50" font-size="10.6" text-anchor="middle" font-weight="normal" fill="#222" >100</text>
<text x="221.20" y="285.20" font-size="10.6" text-anchor="end" font-weight="normal" fill="#222" >100</text>
<line x1="229.50" y1="413.70" x2="361.90" y2="281.00" stroke="#6a6a6a" stroke-width="0.65"/>
<text x="295.80" y="255.70" font-size="11.2" text-anchor="middle" font-weight="normal" fill="#1a1a1a" >Non tumor (n=91)</text>
<text x="295.00" y="269.30" font-size="11.2" text-anchor="middle" font-weight="normal" fill="#1a1a1a" >Vs mUICC I/II (n=129)</text>
<text x="357.80" y="384.20" font-size="10.3" text-anchor="end" font-weight="normal" fill="#1a1a1a" >AFP=0.679</text>
<text x="357.80" y="396.60" font-size="10.3" text-anchor="end" font-weight="normal" fill="#1a1a1a" >ITGA6=0.826</text>
<text x="357.80" y="408.80" font-size="10" text-anchor="end" font-weight="normal" fill="#1a1a1a" ><tspan font-style="italic">P</tspan>=0.0003</text>
<path d="M229.50,413.70 L229.50,394.69 L232.40,394.69 L232.40,387.79 L233.06,387.79 L233.06,386.33 L233.72,386.33 L234.72,386.33 L234.72,381.82 L235.71,381.82 L237.16,381.82 L237.16,380.76 L238.62,380.76 L240.61,380.76 L240.61,379.83 L242.59,379.83 L243.59,379.83 L243.59,377.84 L244.58,377.84 L245.22,377.84 L245.22,376.87 L246.50,376.87 L246.50,375.89 L247.78,375.89 L247.78,374.92 L248.42,374.92 L249.15,374.92 L249.15,372.93 L250.60,372.93 L250.60,370.94 L251.33,370.94 L252.09,370.94 L252.09,368.95 L253.62,368.95 L253.62,366.96 L254.38,366.96 L257.82,366.96 L257.82,366.03 L261.26,366.03 L263.18,366.03 L263.18,364.97 L265.10,364.97 L265.92,364.97 L265.92,363.69 L267.55,363.69 L267.55,362.40 L269.18,362.40 L269.18,361.12 L270.00,361.12 L272.45,361.12 L272.45,359.66 L274.90,359.66 L275.36,359.66 L275.36,355.15 L275.83,355.15 L276.29,355.15 L276.29,336.31 L276.75,336.31 L277.65,336.31 L277.65,334.31 L279.43,334.31 L279.43,332.32 L280.33,332.32 L282.51,332.32 L282.51,330.86 L284.70,330.86 L285.36,330.86 L285.36,322.37 L286.02,322.37 L286.75,322.37 L286.75,318.46 L288.20,318.46 L288.20,314.54 L288.93,314.54 L289.75,314.54 L289.75,313.13 L291.38,313.13 L291.38,311.71 L293.02,311.71 L293.02,310.30 L293.83,310.30 L294.56,310.30 L294.56,303.79 L295.29,303.79 L297.01,303.79 L297.01,302.33 L298.73,302.33 L299.79,302.33 L299.79,297.29 L300.85,297.29 L304.23,297.29 L304.23,296.50 L307.60,296.50 L308.96,296.50 L308.96,295.43 L311.67,295.43 L311.67,294.37 L313.03,294.37 L314.06,294.37 L314.06,293.38 L316.11,293.38 L316.11,292.38 L317.13,292.38 L319.85,292.38 L319.85,291.05 L322.56,291.05 L323.89,291.05 L323.89,289.86 L326.53,289.86 L326.53,288.67 L327.86,288.67 L331.23,288.67 L331.23,288.40 L334.61,288.40 L336.66,288.40 L336.66,287.34 L338.72,287.34 L339.74,287.34 L339.74,286.41 L341.79,286.41 L341.79,285.48 L342.82,285.48 L344.51,285.48 L344.51,284.62 L347.88,284.62 L347.88,283.76 L349.57,283.76 L352.29,283.76 L352.29,282.96 L357.71,282.96 L357.71,282.16 L360.43,282.16 L361.29,282.16 L361.29,281.00 L361.90,281.00" fill="none" stroke="#0a800a" stroke-width="1.7" stroke-linejoin="miter" stroke-miterlimit="3"/>
<path d="M229.50,413.70 L229.50,371.87 L230.48,371.87 L230.48,366.03 L231.21,366.03 L232.46,366.03 L232.46,364.97 L233.72,364.97 L234.45,364.97 L234.45,363.51 L235.91,363.51 L235.91,362.05 L236.63,362.05 L237.40,362.05 L237.40,360.59 L238.92,360.59 L238.92,359.13 L239.68,359.13 L241.14,359.13 L241.14,357.67 L242.59,357.67 L243.59,357.67 L243.59,356.87 L245.57,356.87 L245.57,356.08 L246.56,356.08 L247.29,356.08 L247.29,354.62 L248.75,354.62 L248.75,353.16 L249.48,353.16 L249.94,353.16 L249.94,347.19 L250.40,347.19 L251.40,347.19 L251.40,343.21 L252.39,343.21 L252.66,343.21 L252.66,340.42 L252.92,340.42 L252.92,337.37 L253.62,337.37 L253.62,334.85 L255.01,334.85 L255.01,332.32 L255.70,332.32 L257.82,332.32 L257.82,331.66 L259.94,331.66 L260.27,331.66 L260.27,321.58 L260.60,321.58 L261.33,321.58 L261.33,319.12 L262.78,319.12 L262.78,316.67 L263.51,316.67 L266.36,316.67 L266.36,315.21 L269.21,315.21 L269.87,315.21 L269.87,305.92 L270.53,305.92 L273.38,305.92 L273.38,305.25 L276.22,305.25 L277.39,305.25 L277.39,304.06 L279.73,304.06 L279.73,302.86 L282.07,302.86 L282.07,301.67 L283.24,301.67 L284.30,301.67 L284.30,297.29 L285.36,297.29 L287.81,297.29 L287.81,295.96 L290.26,295.96 L291.02,295.96 L291.02,294.57 L292.54,294.57 L292.54,293.18 L293.30,293.18 L293.90,293.18 L293.90,289.46 L294.49,289.46 L294.89,289.46 L294.89,285.35 L295.29,285.35 L295.98,285.35 L295.98,284.42 L297.37,284.42 L297.37,283.49 L298.07,283.49 L298.80,283.49 L298.80,281.00 L299.52,281.00 L361.90,281.00" fill="none" stroke="#ff0000" stroke-width="1.7" stroke-linejoin="miter" stroke-miterlimit="3"/>
<rect x="400.50" y="277.40" width="140.00" height="139.90" fill="none" stroke="#333" stroke-width="1.3"/>
<line x1="404.30" y1="417.30" x2="404.30" y2="414.30" stroke="#333" stroke-width="1.0"/>
<line x1="400.50" y1="413.70" x2="403.50" y2="413.70" stroke="#333" stroke-width="1.0"/>
<line x1="410.92" y1="417.30" x2="410.92" y2="415.30" stroke="#333" stroke-width="1.0"/>
<line x1="400.50" y1="407.06" x2="402.50" y2="407.06" stroke="#333" stroke-width="1.0"/>
<line x1="417.54" y1="417.30" x2="417.54" y2="415.30" stroke="#333" stroke-width="1.0"/>
<line x1="400.50" y1="400.43" x2="402.50" y2="400.43" stroke="#333" stroke-width="1.0"/>
<line x1="424.16" y1="417.30" x2="424.16" y2="415.30" stroke="#333" stroke-width="1.0"/>
<line x1="400.50" y1="393.79" x2="402.50" y2="393.79" stroke="#333" stroke-width="1.0"/>
<line x1="430.78" y1="417.30" x2="430.78" y2="414.30" stroke="#333" stroke-width="1.0"/>
<line x1="400.50" y1="387.16" x2="403.50" y2="387.16" stroke="#333" stroke-width="1.0"/>
<line x1="437.40" y1="417.30" x2="437.40" y2="415.30" stroke="#333" stroke-width="1.0"/>
<line x1="400.50" y1="380.52" x2="402.50" y2="380.52" stroke="#333" stroke-width="1.0"/>
<line x1="444.02" y1="417.30" x2="444.02" y2="415.30" stroke="#333" stroke-width="1.0"/>
<line x1="400.50" y1="373.89" x2="402.50" y2="373.89" stroke="#333" stroke-width="1.0"/>
<line x1="450.64" y1="417.30" x2="450.64" y2="415.30" stroke="#333" stroke-width="1.0"/>
<line x1="400.50" y1="367.25" x2="402.50" y2="367.25" stroke="#333" stroke-width="1.0"/>
<line x1="457.26" y1="417.30" x2="457.26" y2="414.30" stroke="#333" stroke-width="1.0"/>
<line x1="400.50" y1="360.62" x2="403.50" y2="360.62" stroke="#333" stroke-width="1.0"/>
<line x1="463.88" y1="417.30" x2="463.88" y2="415.30" stroke="#333" stroke-width="1.0"/>
<line x1="400.50" y1="353.98" x2="402.50" y2="353.98" stroke="#333" stroke-width="1.0"/>
<line x1="470.50" y1="417.30" x2="470.50" y2="415.30" stroke="#333" stroke-width="1.0"/>
<line x1="400.50" y1="347.35" x2="402.50" y2="347.35" stroke="#333" stroke-width="1.0"/>
<line x1="477.12" y1="417.30" x2="477.12" y2="415.30" stroke="#333" stroke-width="1.0"/>
<line x1="400.50" y1="340.71" x2="402.50" y2="340.71" stroke="#333" stroke-width="1.0"/>
<line x1="483.74" y1="417.30" x2="483.74" y2="414.30" stroke="#333" stroke-width="1.0"/>
<line x1="400.50" y1="334.08" x2="403.50" y2="334.08" stroke="#333" stroke-width="1.0"/>
<line x1="490.36" y1="417.30" x2="490.36" y2="415.30" stroke="#333" stroke-width="1.0"/>
<line x1="400.50" y1="327.44" x2="402.50" y2="327.44" stroke="#333" stroke-width="1.0"/>
<line x1="496.98" y1="417.30" x2="496.98" y2="415.30" stroke="#333" stroke-width="1.0"/>
<line x1="400.50" y1="320.81" x2="402.50" y2="320.81" stroke="#333" stroke-width="1.0"/>
<line x1="503.60" y1="417.30" x2="503.60" y2="415.30" stroke="#333" stroke-width="1.0"/>
<line x1="400.50" y1="314.17" x2="402.50" y2="314.17" stroke="#333" stroke-width="1.0"/>
<line x1="510.22" y1="417.30" x2="510.22" y2="414.30" stroke="#333" stroke-width="1.0"/>
<line x1="400.50" y1="307.54" x2="403.50" y2="307.54" stroke="#333" stroke-width="1.0"/>
<line x1="516.84" y1="417.30" x2="516.84" y2="415.30" stroke="#333" stroke-width="1.0"/>
<line x1="400.50" y1="300.90" x2="402.50" y2="300.90" stroke="#333" stroke-width="1.0"/>
<line x1="523.46" y1="417.30" x2="523.46" y2="415.30" stroke="#333" stroke-width="1.0"/>
<line x1="400.50" y1="294.27" x2="402.50" y2="294.27" stroke="#333" stroke-width="1.0"/>
<line x1="530.08" y1="417.30" x2="530.08" y2="415.30" stroke="#333" stroke-width="1.0"/>
<line x1="400.50" y1="287.63" x2="402.50" y2="287.63" stroke="#333" stroke-width="1.0"/>
<line x1="536.70" y1="417.30" x2="536.70" y2="414.30" stroke="#333" stroke-width="1.0"/>
<line x1="400.50" y1="281.00" x2="403.50" y2="281.00" stroke="#333" stroke-width="1.0"/>
<text x="404.30" y="430.50" font-size="10.6" text-anchor="middle" font-weight="normal" fill="#222" >0</text>
<text x="396.00" y="417.90" font-size="10.6" text-anchor="end" font-weight="normal" fill="#222" >0</text>
<text x="430.78" y="430.50" font-size="10.6" text-anchor="middle" font-weight="normal" fill="#222" >20</text>
<text x="396.00" y="391.36" font-size="10.6" text-anchor="end" font-weight="normal" fill="#222" >20</text>
<text x="457.26" y="430.50" font-size="10.6" text-anchor="middle" font-weight="normal" fill="#222" >40</text>
<text x="396.00" y="364.82" font-size="10.6" text-anchor="end" font-weight="normal" fill="#222" >40</text>
<text x="483.74" y="430.50" font-size="10.6" text-anchor="middle" font-weight="normal" fill="#222" >60</text>
<text x="396.00" y="338.28" font-size="10.6" text-anchor="end" font-weight="normal" fill="#222" >60</text>
<text x="510.22" y="430.50" font-size="10.6" text-anchor="middle" font-weight="normal" fill="#222" >80</text>
<text x="396.00" y="311.74" font-size="10.6" text-anchor="end" font-weight="normal" fill="#222" >80</text>
<text x="536.70" y="430.50" font-size="10.6" text-anchor="middle" font-weight="normal" fill="#222" >100</text>
<text x="396.00" y="285.20" font-size="10.6" text-anchor="end" font-weight="normal" fill="#222" >100</text>
<line x1="404.30" y1="413.70" x2="536.70" y2="281.00" stroke="#6a6a6a" stroke-width="0.65"/>
<text x="468.40" y="255.70" font-size="11.2" text-anchor="middle" font-weight="normal" fill="#1a1a1a" >Non tumor (n=91)</text>
<text x="467.60" y="269.30" font-size="11.2" text-anchor="middle" font-weight="normal" fill="#1a1a1a" >vs mUICC I (n=48)</text>
<text x="531.30" y="384.20" font-size="10.3" text-anchor="end" font-weight="normal" fill="#1a1a1a" >AFP=0.644</text>
<text x="531.30" y="396.60" font-size="10.3" text-anchor="end" font-weight="normal" fill="#1a1a1a" >ITGA6=0.798</text>
<text x="531.30" y="408.80" font-size="10" text-anchor="end" font-weight="normal" fill="#1a1a1a" ><tspan font-style="italic">P</tspan>=0.0056</text>
<path d="M404.30,413.70 L404.30,403.45 L406.14,403.45 L406.54,403.45 L406.54,395.62 L406.93,395.62 L408.19,395.62 L408.19,392.57 L409.45,392.57 L417.26,392.57 L418.25,392.57 L418.25,387.66 L419.25,387.66 L420.70,387.66 L420.70,384.74 L422.16,384.74 L423.62,384.74 L423.62,380.76 L425.07,380.76 L426.06,380.76 L426.06,375.85 L427.06,375.85 L428.05,375.85 L428.05,370.81 L429.04,370.81 L432.42,370.81 L432.42,369.88 L435.80,369.88 L436.33,369.88 L436.33,366.96 L436.86,366.96 L439.77,366.96 L439.77,366.03 L442.68,366.03 L442.95,366.03 L442.95,361.65 L443.21,361.65 L446.39,361.65 L446.39,361.12 L449.57,361.12 L450.03,361.12 L450.03,355.15 L450.49,355.15 L450.96,355.15 L450.96,342.28 L451.42,342.28 L452.15,342.28 L452.15,336.57 L452.88,336.57 L454.27,336.57 L454.27,334.45 L455.66,334.45 L457.44,334.45 L457.44,333.78 L459.23,333.78 L459.89,333.78 L459.89,326.62 L460.56,326.62 L461.45,326.62 L461.45,320.91 L463.24,320.91 L463.24,315.21 L464.13,315.21 L465.19,315.21 L465.19,313.88 L466.25,313.88 L467.31,313.88 L467.31,310.30 L468.37,310.30 L469.10,310.30 L469.10,306.05 L469.82,306.05 L470.88,306.05 L470.88,303.66 L471.94,303.66 L479.75,303.66 L479.75,303.40 L487.56,303.40 L488.23,303.40 L488.23,300.61 L488.89,300.61 L490.21,300.61 L490.21,298.35 L491.54,298.35 L495.97,298.35 L495.97,297.95 L500.41,297.95 L501.73,297.95 L501.73,295.57 L503.06,295.57 L508.48,295.57 L508.48,295.17 L513.91,295.17 L514.24,295.17 L514.24,292.91 L514.57,292.91 L515.90,292.91 L515.90,292.51 L517.22,292.51 L518.08,292.51 L518.08,286.94 L518.94,286.94 L524.64,286.94 L525.03,286.94 L525.03,284.68 L525.43,284.68 L532.85,284.68 L533.51,284.68 L533.51,282.16 L534.17,282.16 L535.56,282.16 L535.56,281.00 L536.70,281.00" fill="none" stroke="#0a800a" stroke-width="1.7" stroke-linejoin="miter" stroke-miterlimit="3"/>
<path d="M404.30,413.70 L404.30,387.66 L405.34,387.66 L405.34,381.82 L406.14,381.82 L410.24,381.82 L410.24,380.76 L414.35,380.76 L415.27,380.76 L415.27,377.71 L416.20,377.71 L417.19,377.71 L417.19,375.45 L418.19,375.45 L419.71,375.45 L419.71,372.93 L421.23,372.93 L422.62,372.93 L422.62,369.88 L424.01,369.88 L424.54,369.88 L424.54,359.00 L425.07,359.00 L426.06,359.00 L426.06,354.22 L427.06,354.22 L427.32,354.22 L427.32,343.21 L427.59,343.21 L429.24,343.21 L429.24,341.21 L430.90,341.21 L430.96,341.21 L430.96,336.97 L431.03,336.97 L434.60,336.97 L434.80,336.97 L434.80,320.25 L435.00,320.25 L439.37,320.25 L439.37,319.58 L443.74,319.58 L444.27,319.58 L444.27,312.42 L444.80,312.42 L447.45,312.42 L447.45,310.30 L450.10,310.30 L451.82,310.30 L451.82,306.71 L453.54,306.71 L455.66,306.71 L455.66,305.25 L457.77,305.25 L458.83,305.25 L458.83,298.22 L459.89,298.22 L462.74,298.22 L462.74,296.76 L465.59,296.76 L466.58,296.76 L466.58,294.64 L467.57,294.64 L468.37,294.64 L468.37,289.59 L469.16,289.59 L469.69,289.59 L469.69,284.29 L470.22,284.29 L474.06,284.29 L474.06,281.00 L536.70,281.00" fill="none" stroke="#ff0000" stroke-width="1.7" stroke-linejoin="miter" stroke-miterlimit="3"/>
</svg></body></html>
